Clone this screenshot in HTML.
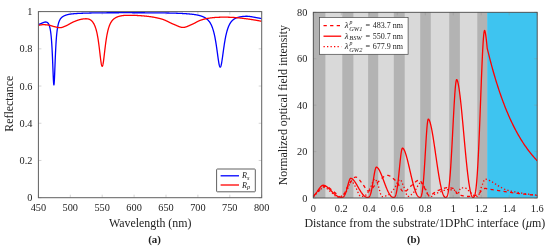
<!DOCTYPE html>
<html><head><meta charset="utf-8"><title>Figure</title>
<style>html,body{margin:0;padding:0;background:#fff;}body{width:550px;height:248px;overflow:hidden;}</style>
</head><body>
<svg width="550" height="248" viewBox="0 0 550 248" style="display:block">
<rect width="550" height="248" fill="#fff"/>
<g fill="none" stroke="#a8a8a8" stroke-width="0.5">
<path d="M38.40,197.7 v-3 M38.40,11.6 v3"/>
<path d="M70.30,197.7 v-3 M70.30,11.6 v3"/>
<path d="M102.20,197.7 v-3 M102.20,11.6 v3"/>
<path d="M134.10,197.7 v-3 M134.10,11.6 v3"/>
<path d="M166.00,197.7 v-3 M166.00,11.6 v3"/>
<path d="M197.90,197.7 v-3 M197.90,11.6 v3"/>
<path d="M229.80,197.7 v-3 M229.80,11.6 v3"/>
<path d="M261.70,197.7 v-3 M261.70,11.6 v3"/>
<path d="M38.4,197.70 h3 M261.7,197.70 h-3"/>
<path d="M38.4,160.48 h3 M261.7,160.48 h-3"/>
<path d="M38.4,123.26 h3 M261.7,123.26 h-3"/>
<path d="M38.4,86.04 h3 M261.7,86.04 h-3"/>
<path d="M38.4,48.82 h3 M261.7,48.82 h-3"/>
<path d="M38.4,11.60 h3 M261.7,11.60 h-3"/>
</g>
<clipPath id="cl"><rect x="38.4" y="11.6" width="223.30" height="186.10"/></clipPath>
<g clip-path="url(#cl)" fill="none" stroke-width="1.3" stroke-linejoin="round"><path d="M38.40,24.61 L38.56,24.55 L38.72,24.49 L38.88,24.42 L39.04,24.36 L39.20,24.29 L39.36,24.22 L39.52,24.16 L39.68,24.09 L39.84,24.03 L39.99,23.96 L40.15,23.89 L40.31,23.83 L40.47,23.76 L40.63,23.69 L40.79,23.62 L40.95,23.56 L41.11,23.49 L41.27,23.43 L41.43,23.36 L41.59,23.29 L41.75,23.23 L41.91,23.17 L42.07,23.10 L42.23,23.04 L42.39,22.98 L42.55,22.91 L42.71,22.85 L42.87,22.78 L43.03,22.72 L43.18,22.65 L43.34,22.59 L43.50,22.52 L43.66,22.46 L43.82,22.40 L43.98,22.34 L44.14,22.29 L44.30,22.23 L44.46,22.19 L44.62,22.14 L44.78,22.10 L44.94,22.07 L45.10,22.04 L45.26,22.02 L45.42,22.00 L45.58,22.00 L45.74,22.00 L45.90,22.01 L46.06,22.03 L46.22,22.05 L46.38,22.09 L46.53,22.13 L46.69,22.18 L46.85,22.25 L47.01,22.32 L47.17,22.40 L47.33,22.50 L47.49,22.61 L47.65,22.74 L47.81,22.89 L47.97,23.06 L48.13,23.24 L48.29,23.46 L48.45,23.70 L48.61,23.96 L48.77,24.27 L48.93,24.60 L49.09,24.98 L49.25,25.40 L49.41,25.87 L49.56,26.39 L49.72,26.97 L49.88,27.62 L50.04,28.34 L50.20,29.14 L50.36,30.03 L50.52,31.02 L50.68,32.13 L50.84,33.35 L51.00,34.73 L51.16,36.26 L51.32,37.97 L51.48,39.88 L51.64,42.01 L51.80,44.39 L51.96,47.02 L52.12,49.94 L52.28,53.15 L52.44,56.63 L52.60,60.38 L52.75,64.32 L52.91,68.38 L53.07,72.40 L53.23,76.22 L53.39,79.61 L53.55,82.32 L53.71,84.14 L53.87,84.90 L54.03,84.52 L54.19,83.03 L54.35,80.58 L54.51,77.36 L54.67,73.61 L54.83,69.57 L54.99,65.44 L55.15,61.36 L55.31,57.45 L55.47,53.79 L55.63,50.39 L55.79,47.28 L55.94,44.46 L56.10,41.91 L56.26,39.60 L56.42,37.53 L56.58,35.67 L56.74,33.99 L56.90,32.48 L57.06,31.12 L57.22,29.89 L57.38,28.77 L57.54,27.77 L57.70,26.85 L57.86,26.02 L58.02,25.26 L58.18,24.56 L58.34,23.93 L58.50,23.34 L58.66,22.81 L58.82,22.31 L58.98,21.86 L59.13,21.44 L59.29,21.04 L59.45,20.68 L59.61,20.34 L59.77,20.03 L59.93,19.73 L60.09,19.46 L60.25,19.20 L60.41,18.96 L60.57,18.74 L60.73,18.52 L60.89,18.32 L61.05,18.13 L61.21,17.95 L61.37,17.78 L61.53,17.62 L61.69,17.47 L61.85,17.33 L62.01,17.19 L62.17,17.06 L62.33,16.94 L62.48,16.82 L62.64,16.71 L62.80,16.60 L62.96,16.49 L63.12,16.40 L63.28,16.30 L63.44,16.21 L63.60,16.12 L63.76,16.04 L63.92,15.96 L64.08,15.88 L64.24,15.80 L64.40,15.73 L64.56,15.66 L64.72,15.59 L64.88,15.52 L65.04,15.46 L65.20,15.39 L65.36,15.33 L65.52,15.28 L65.67,15.22 L65.83,15.16 L65.99,15.11 L66.15,15.06 L66.31,15.01 L66.47,14.96 L66.63,14.91 L66.79,14.86 L66.95,14.82 L67.11,14.77 L67.27,14.73 L67.43,14.69 L67.59,14.65 L67.75,14.61 L67.91,14.57 L68.07,14.53 L68.23,14.49 L68.39,14.46 L68.55,14.43 L68.70,14.39 L68.86,14.36 L69.02,14.33 L69.18,14.30 L69.34,14.27 L69.50,14.24 L69.66,14.22 L69.82,14.19 L69.98,14.16 L70.14,14.14 L70.30,14.12 L70.46,14.10 L70.62,14.07 L70.78,14.05 L70.94,14.03 L71.10,14.01 L71.26,13.99 L71.42,13.97 L71.58,13.95 L71.74,13.94 L71.89,13.92 L72.05,13.90 L72.21,13.88 L72.37,13.87 L72.53,13.85 L72.69,13.83 L72.85,13.82 L73.01,13.80 L73.17,13.79 L73.33,13.77 L73.49,13.76 L73.65,13.74 L73.81,13.73 L73.97,13.71 L74.13,13.70 L74.29,13.69 L74.45,13.68 L74.61,13.66 L74.77,13.65 L74.93,13.64 L75.08,13.63 L75.24,13.61 L75.40,13.60 L75.56,13.59 L75.72,13.58 L75.88,13.57 L76.04,13.56 L76.20,13.55 L76.36,13.54 L76.52,13.53 L76.68,13.52 L76.84,13.51 L77.00,13.50 L77.16,13.49 L77.32,13.48 L77.48,13.47 L77.64,13.46 L77.80,13.45 L77.96,13.44 L78.12,13.43 L78.27,13.43 L78.43,13.42 L78.59,13.41 L78.75,13.40 L78.91,13.39 L79.07,13.39 L79.23,13.38 L79.39,13.37 L79.55,13.36 L79.71,13.36 L79.87,13.35 L80.03,13.34 L80.19,13.33 L80.35,13.33 L80.51,13.32 L80.67,13.31 L80.83,13.31 L80.99,13.30 L81.15,13.29 L81.31,13.29 L81.47,13.28 L81.62,13.27 L81.78,13.27 L81.94,13.26 L82.10,13.26 L82.26,13.25 L82.42,13.24 L82.58,13.24 L82.74,13.23 L82.90,13.23 L83.06,13.22 L83.22,13.21 L83.38,13.21 L83.54,13.20 L83.70,13.20 L83.86,13.19 L84.02,13.19 L84.18,13.18 L84.34,13.18 L84.50,13.17 L84.66,13.16 L84.81,13.16 L84.97,13.15 L85.13,13.15 L85.29,13.14 L85.45,13.14 L85.61,13.13 L85.77,13.13 L85.93,13.12 L86.09,13.12 L86.25,13.11 L86.41,13.11 L86.57,13.10 L86.73,13.10 L86.89,13.09 L87.05,13.09 L87.21,13.08 L87.37,13.08 L87.53,13.08 L87.69,13.07 L87.84,13.07 L88.00,13.06 L88.16,13.06 L88.32,13.05 L88.48,13.05 L88.64,13.04 L88.80,13.04 L88.96,13.04 L89.12,13.03 L89.28,13.03 L89.44,13.02 L89.60,13.02 L89.76,13.01 L89.92,13.01 L90.08,13.01 L90.24,13.00 L90.40,13.00 L90.56,12.99 L90.72,12.99 L90.88,12.99 L91.03,12.98 L91.19,12.98 L91.35,12.98 L91.51,12.97 L91.67,12.97 L91.83,12.96 L91.99,12.96 L92.15,12.96 L92.31,12.95 L92.47,12.95 L92.63,12.95 L92.79,12.94 L92.95,12.94 L93.11,12.94 L93.27,12.93 L93.43,12.93 L93.59,12.93 L93.75,12.92 L93.91,12.92 L94.07,12.92 L94.22,12.91 L94.38,12.91 L94.54,12.91 L94.70,12.90 L94.86,12.90 L95.02,12.90 L95.18,12.90 L95.34,12.89 L95.50,12.89 L95.66,12.89 L95.82,12.88 L95.98,12.88 L96.14,12.88 L96.30,12.88 L96.46,12.87 L96.62,12.87 L96.78,12.87 L96.94,12.87 L97.10,12.86 L97.26,12.86 L97.41,12.86 L97.57,12.86 L97.73,12.85 L97.89,12.85 L98.05,12.85 L98.21,12.85 L98.37,12.84 L98.53,12.84 L98.69,12.84 L98.85,12.84 L99.01,12.84 L99.17,12.83 L99.33,12.83 L99.49,12.83 L99.65,12.83 L99.81,12.83 L99.97,12.82 L100.13,12.82 L100.29,12.82 L100.45,12.82 L100.60,12.82 L100.76,12.82 L100.92,12.81 L101.08,12.81 L101.24,12.81 L101.40,12.81 L101.56,12.81 L101.72,12.81 L101.88,12.81 L102.04,12.81 L102.20,12.80 L102.36,12.80 L102.52,12.80 L102.68,12.80 L102.84,12.80 L103.00,12.80 L103.16,12.80 L103.32,12.80 L103.48,12.79 L103.64,12.79 L103.79,12.79 L103.95,12.79 L104.11,12.79 L104.27,12.79 L104.43,12.79 L104.59,12.79 L104.75,12.79 L104.91,12.79 L105.07,12.78 L105.23,12.78 L105.39,12.78 L105.55,12.78 L105.71,12.78 L105.87,12.78 L106.03,12.78 L106.19,12.78 L106.35,12.78 L106.51,12.78 L106.67,12.77 L106.83,12.77 L106.98,12.77 L107.14,12.77 L107.30,12.77 L107.46,12.77 L107.62,12.77 L107.78,12.77 L107.94,12.77 L108.10,12.77 L108.26,12.77 L108.42,12.76 L108.58,12.76 L108.74,12.76 L108.90,12.76 L109.06,12.76 L109.22,12.76 L109.38,12.76 L109.54,12.76 L109.70,12.76 L109.86,12.76 L110.02,12.76 L110.17,12.76 L110.33,12.75 L110.49,12.75 L110.65,12.75 L110.81,12.75 L110.97,12.75 L111.13,12.75 L111.29,12.75 L111.45,12.75 L111.61,12.75 L111.77,12.75 L111.93,12.75 L112.09,12.75 L112.25,12.75 L112.41,12.75 L112.57,12.75 L112.73,12.74 L112.89,12.74 L113.05,12.74 L113.21,12.74 L113.36,12.74 L113.52,12.74 L113.68,12.74 L113.84,12.74 L114.00,12.74 L114.16,12.74 L114.32,12.74 L114.48,12.74 L114.64,12.74 L114.80,12.74 L114.96,12.74 L115.12,12.74 L115.28,12.74 L115.44,12.73 L115.60,12.73 L115.76,12.73 L115.92,12.73 L116.08,12.73 L116.24,12.73 L116.40,12.73 L116.55,12.73 L116.71,12.73 L116.87,12.73 L117.03,12.73 L117.19,12.73 L117.35,12.73 L117.51,12.73 L117.67,12.73 L117.83,12.73 L117.99,12.73 L118.15,12.73 L118.31,12.73 L118.47,12.73 L118.63,12.73 L118.79,12.73 L118.95,12.73 L119.11,12.72 L119.27,12.72 L119.43,12.72 L119.59,12.72 L119.74,12.72 L119.90,12.72 L120.06,12.72 L120.22,12.72 L120.38,12.72 L120.54,12.72 L120.70,12.72 L120.86,12.72 L121.02,12.72 L121.18,12.72 L121.34,12.72 L121.50,12.72 L121.66,12.72 L121.82,12.72 L121.98,12.72 L122.14,12.72 L122.30,12.72 L122.46,12.72 L122.62,12.72 L122.78,12.72 L122.94,12.72 L123.09,12.72 L123.25,12.72 L123.41,12.72 L123.57,12.72 L123.73,12.72 L123.89,12.72 L124.05,12.72 L124.21,12.72 L124.37,12.72 L124.53,12.72 L124.69,12.72 L124.85,12.72 L125.01,12.72 L125.17,12.72 L125.33,12.72 L125.49,12.72 L125.65,12.72 L125.81,12.72 L125.97,12.72 L126.12,12.72 L126.28,12.72 L126.44,12.72 L126.60,12.72 L126.76,12.72 L126.92,12.72 L127.08,12.72 L127.24,12.72 L127.40,12.72 L127.56,12.72 L127.72,12.72 L127.88,12.72 L128.04,12.72 L128.20,12.72 L128.36,12.72 L128.52,12.72 L128.68,12.72 L128.84,12.72 L129.00,12.72 L129.16,12.72 L129.31,12.72 L129.47,12.72 L129.63,12.72 L129.79,12.72 L129.95,12.72 L130.11,12.72 L130.27,12.72 L130.43,12.72 L130.59,12.72 L130.75,12.72 L130.91,12.72 L131.07,12.72 L131.23,12.72 L131.39,12.72 L131.55,12.72 L131.71,12.72 L131.87,12.72 L132.03,12.72 L132.19,12.73 L132.35,12.73 L132.50,12.73 L132.66,12.73 L132.82,12.73 L132.98,12.73 L133.14,12.73 L133.30,12.73 L133.46,12.73 L133.62,12.73 L133.78,12.73 L133.94,12.73 L134.10,12.73 L134.26,12.73 L134.42,12.73 L134.58,12.73 L134.74,12.73 L134.90,12.73 L135.06,12.73 L135.22,12.73 L135.38,12.73 L135.54,12.73 L135.69,12.74 L135.85,12.74 L136.01,12.74 L136.17,12.74 L136.33,12.74 L136.49,12.74 L136.65,12.74 L136.81,12.74 L136.97,12.74 L137.13,12.74 L137.29,12.74 L137.45,12.74 L137.61,12.74 L137.77,12.74 L137.93,12.74 L138.09,12.74 L138.25,12.74 L138.41,12.75 L138.57,12.75 L138.73,12.75 L138.88,12.75 L139.04,12.75 L139.20,12.75 L139.36,12.75 L139.52,12.75 L139.68,12.75 L139.84,12.75 L140.00,12.75 L140.16,12.75 L140.32,12.75 L140.48,12.75 L140.64,12.75 L140.80,12.75 L140.96,12.76 L141.12,12.76 L141.28,12.76 L141.44,12.76 L141.60,12.76 L141.76,12.76 L141.92,12.76 L142.07,12.76 L142.23,12.76 L142.39,12.76 L142.55,12.76 L142.71,12.76 L142.87,12.76 L143.03,12.76 L143.19,12.77 L143.35,12.77 L143.51,12.77 L143.67,12.77 L143.83,12.77 L143.99,12.77 L144.15,12.77 L144.31,12.77 L144.47,12.77 L144.63,12.77 L144.79,12.77 L144.95,12.77 L145.11,12.78 L145.26,12.78 L145.42,12.78 L145.58,12.78 L145.74,12.78 L145.90,12.78 L146.06,12.78 L146.22,12.78 L146.38,12.78 L146.54,12.78 L146.70,12.78 L146.86,12.78 L147.02,12.79 L147.18,12.79 L147.34,12.79 L147.50,12.79 L147.66,12.79 L147.82,12.79 L147.98,12.79 L148.14,12.79 L148.30,12.79 L148.46,12.79 L148.61,12.80 L148.77,12.80 L148.93,12.80 L149.09,12.80 L149.25,12.80 L149.41,12.80 L149.57,12.80 L149.73,12.80 L149.89,12.80 L150.05,12.80 L150.21,12.81 L150.37,12.81 L150.53,12.81 L150.69,12.81 L150.85,12.81 L151.01,12.81 L151.17,12.81 L151.33,12.81 L151.49,12.81 L151.65,12.82 L151.80,12.82 L151.96,12.82 L152.12,12.82 L152.28,12.82 L152.44,12.82 L152.60,12.82 L152.76,12.82 L152.92,12.82 L153.08,12.83 L153.24,12.83 L153.40,12.83 L153.56,12.83 L153.72,12.83 L153.88,12.83 L154.04,12.83 L154.20,12.83 L154.36,12.84 L154.52,12.84 L154.68,12.84 L154.84,12.84 L154.99,12.84 L155.15,12.84 L155.31,12.84 L155.47,12.85 L155.63,12.85 L155.79,12.85 L155.95,12.85 L156.11,12.85 L156.27,12.85 L156.43,12.85 L156.59,12.86 L156.75,12.86 L156.91,12.86 L157.07,12.86 L157.23,12.86 L157.39,12.86 L157.55,12.86 L157.71,12.87 L157.87,12.87 L158.03,12.87 L158.18,12.87 L158.34,12.87 L158.50,12.87 L158.66,12.88 L158.82,12.88 L158.98,12.88 L159.14,12.88 L159.30,12.88 L159.46,12.88 L159.62,12.89 L159.78,12.89 L159.94,12.89 L160.10,12.89 L160.26,12.89 L160.42,12.89 L160.58,12.90 L160.74,12.90 L160.90,12.90 L161.06,12.90 L161.22,12.90 L161.37,12.90 L161.53,12.91 L161.69,12.91 L161.85,12.91 L162.01,12.91 L162.17,12.91 L162.33,12.92 L162.49,12.92 L162.65,12.92 L162.81,12.92 L162.97,12.92 L163.13,12.93 L163.29,12.93 L163.45,12.93 L163.61,12.93 L163.77,12.93 L163.93,12.94 L164.09,12.94 L164.25,12.94 L164.41,12.94 L164.56,12.95 L164.72,12.95 L164.88,12.95 L165.04,12.95 L165.20,12.95 L165.36,12.96 L165.52,12.96 L165.68,12.96 L165.84,12.96 L166.00,12.97 L166.16,12.97 L166.32,12.97 L166.48,12.97 L166.64,12.98 L166.80,12.98 L166.96,12.98 L167.12,12.98 L167.28,12.99 L167.44,12.99 L167.59,12.99 L167.75,13.00 L167.91,13.00 L168.07,13.00 L168.23,13.00 L168.39,13.01 L168.55,13.01 L168.71,13.01 L168.87,13.02 L169.03,13.02 L169.19,13.02 L169.35,13.03 L169.51,13.03 L169.67,13.03 L169.83,13.04 L169.99,13.04 L170.15,13.04 L170.31,13.05 L170.47,13.05 L170.63,13.06 L170.78,13.06 L170.94,13.06 L171.10,13.07 L171.26,13.07 L171.42,13.08 L171.58,13.08 L171.74,13.08 L171.90,13.09 L172.06,13.09 L172.22,13.10 L172.38,13.10 L172.54,13.11 L172.70,13.11 L172.86,13.11 L173.02,13.12 L173.18,13.12 L173.34,13.13 L173.50,13.13 L173.66,13.14 L173.82,13.14 L173.97,13.15 L174.13,13.15 L174.29,13.16 L174.45,13.16 L174.61,13.17 L174.77,13.17 L174.93,13.18 L175.09,13.18 L175.25,13.19 L175.41,13.19 L175.57,13.20 L175.73,13.21 L175.89,13.21 L176.05,13.22 L176.21,13.22 L176.37,13.23 L176.53,13.23 L176.69,13.24 L176.85,13.25 L177.01,13.25 L177.16,13.26 L177.32,13.26 L177.48,13.27 L177.64,13.28 L177.80,13.28 L177.96,13.29 L178.12,13.30 L178.28,13.30 L178.44,13.31 L178.60,13.32 L178.76,13.32 L178.92,13.33 L179.08,13.34 L179.24,13.34 L179.40,13.35 L179.56,13.36 L179.72,13.36 L179.88,13.37 L180.04,13.38 L180.20,13.39 L180.35,13.39 L180.51,13.40 L180.67,13.41 L180.83,13.42 L180.99,13.42 L181.15,13.43 L181.31,13.44 L181.47,13.45 L181.63,13.46 L181.79,13.46 L181.95,13.47 L182.11,13.48 L182.27,13.49 L182.43,13.50 L182.59,13.51 L182.75,13.52 L182.91,13.52 L183.07,13.53 L183.23,13.54 L183.39,13.55 L183.54,13.56 L183.70,13.57 L183.86,13.58 L184.02,13.59 L184.18,13.60 L184.34,13.61 L184.50,13.62 L184.66,13.63 L184.82,13.64 L184.98,13.65 L185.14,13.66 L185.30,13.67 L185.46,13.68 L185.62,13.69 L185.78,13.70 L185.94,13.71 L186.10,13.72 L186.26,13.73 L186.42,13.75 L186.58,13.76 L186.73,13.77 L186.89,13.78 L187.05,13.79 L187.21,13.80 L187.37,13.82 L187.53,13.83 L187.69,13.84 L187.85,13.85 L188.01,13.87 L188.17,13.88 L188.33,13.89 L188.49,13.90 L188.65,13.92 L188.81,13.93 L188.97,13.95 L189.13,13.96 L189.29,13.97 L189.45,13.99 L189.61,14.00 L189.77,14.02 L189.92,14.03 L190.08,14.05 L190.24,14.06 L190.40,14.08 L190.56,14.09 L190.72,14.11 L190.88,14.12 L191.04,14.14 L191.20,14.16 L191.36,14.17 L191.52,14.19 L191.68,14.21 L191.84,14.23 L192.00,14.24 L192.16,14.26 L192.32,14.28 L192.48,14.30 L192.64,14.32 L192.80,14.34 L192.96,14.36 L193.11,14.38 L193.27,14.40 L193.43,14.42 L193.59,14.44 L193.75,14.46 L193.91,14.48 L194.07,14.50 L194.23,14.53 L194.39,14.55 L194.55,14.57 L194.71,14.59 L194.87,14.62 L195.03,14.64 L195.19,14.67 L195.35,14.69 L195.51,14.72 L195.67,14.74 L195.83,14.77 L195.99,14.80 L196.15,14.83 L196.30,14.85 L196.46,14.88 L196.62,14.91 L196.78,14.94 L196.94,14.97 L197.10,15.00 L197.26,15.03 L197.42,15.06 L197.58,15.10 L197.74,15.13 L197.90,15.16 L198.06,15.20 L198.22,15.23 L198.38,15.27 L198.54,15.30 L198.70,15.34 L198.86,15.38 L199.02,15.42 L199.18,15.46 L199.34,15.50 L199.49,15.54 L199.65,15.58 L199.81,15.62 L199.97,15.67 L200.13,15.71 L200.29,15.76 L200.45,15.80 L200.61,15.85 L200.77,15.90 L200.93,15.95 L201.09,16.00 L201.25,16.05 L201.41,16.11 L201.57,16.16 L201.73,16.22 L201.89,16.27 L202.05,16.33 L202.21,16.39 L202.37,16.45 L202.53,16.52 L202.68,16.58 L202.84,16.65 L203.00,16.71 L203.16,16.78 L203.32,16.85 L203.48,16.93 L203.64,17.00 L203.80,17.08 L203.96,17.16 L204.12,17.24 L204.28,17.32 L204.44,17.40 L204.60,17.49 L204.76,17.58 L204.92,17.67 L205.08,17.77 L205.24,17.86 L205.40,17.96 L205.56,18.07 L205.72,18.17 L205.87,18.28 L206.03,18.39 L206.19,18.51 L206.35,18.62 L206.51,18.75 L206.67,18.87 L206.83,19.00 L206.99,19.13 L207.15,19.27 L207.31,19.41 L207.47,19.56 L207.63,19.71 L207.79,19.86 L207.95,20.02 L208.11,20.19 L208.27,20.36 L208.43,20.53 L208.59,20.72 L208.75,20.90 L208.91,21.10 L209.06,21.30 L209.22,21.51 L209.38,21.72 L209.54,21.94 L209.70,22.18 L209.86,22.41 L210.02,22.66 L210.18,22.92 L210.34,23.18 L210.50,23.46 L210.66,23.74 L210.82,24.04 L210.98,24.34 L211.14,24.66 L211.30,24.99 L211.46,25.34 L211.62,25.69 L211.78,26.06 L211.94,26.45 L212.10,26.85 L212.25,27.26 L212.41,27.69 L212.57,28.14 L212.73,28.61 L212.89,29.09 L213.05,29.60 L213.21,30.12 L213.37,30.66 L213.53,31.23 L213.69,31.82 L213.85,32.43 L214.01,33.07 L214.17,33.73 L214.33,34.42 L214.49,35.14 L214.65,35.88 L214.81,36.65 L214.97,37.45 L215.13,38.28 L215.29,39.14 L215.44,40.03 L215.60,40.95 L215.76,41.89 L215.92,42.87 L216.08,43.88 L216.24,44.91 L216.40,45.98 L216.56,47.06 L216.72,48.17 L216.88,49.30 L217.04,50.45 L217.20,51.61 L217.36,52.78 L217.52,53.95 L217.68,55.13 L217.84,56.29 L218.00,57.44 L218.16,58.56 L218.32,59.65 L218.48,60.71 L218.63,61.71 L218.79,62.65 L218.95,63.53 L219.11,64.33 L219.27,65.05 L219.43,65.67 L219.59,66.19 L219.75,66.60 L219.91,66.89 L220.07,67.08 L220.23,67.14 L220.39,67.08 L220.55,66.90 L220.71,66.60 L220.87,66.20 L221.03,65.68 L221.19,65.06 L221.35,64.35 L221.51,63.55 L221.67,62.68 L221.82,61.73 L221.98,60.73 L222.14,59.68 L222.30,58.59 L222.46,57.47 L222.62,56.32 L222.78,55.16 L222.94,54.00 L223.10,52.83 L223.26,51.66 L223.42,50.50 L223.58,49.36 L223.74,48.23 L223.90,47.12 L224.06,46.04 L224.22,44.98 L224.38,43.94 L224.54,42.94 L224.70,41.96 L224.86,41.02 L225.01,40.10 L225.17,39.22 L225.33,38.36 L225.49,37.53 L225.65,36.74 L225.81,35.97 L225.97,35.23 L226.13,34.52 L226.29,33.83 L226.45,33.17 L226.61,32.54 L226.77,31.93 L226.93,31.34 L227.09,30.78 L227.25,30.24 L227.41,29.72 L227.57,29.22 L227.73,28.74 L227.89,28.28 L228.05,27.83 L228.21,27.40 L228.36,26.99 L228.52,26.60 L228.68,26.22 L228.84,25.85 L229.00,25.50 L229.16,25.16 L229.32,24.83 L229.48,24.52 L229.64,24.22 L229.80,23.93 L229.96,23.65 L230.12,23.38 L230.28,23.12 L230.44,22.87 L230.60,22.63 L230.76,22.40 L230.92,22.17 L231.08,21.96 L231.24,21.75 L231.40,21.56 L231.55,21.36 L231.71,21.18 L231.87,21.00 L232.03,20.83 L232.19,20.67 L232.35,20.51 L232.51,20.36 L232.67,20.21 L232.83,20.07 L232.99,19.93 L233.15,19.80 L233.31,19.67 L233.47,19.55 L233.63,19.43 L233.79,19.32 L233.95,19.21 L234.11,19.10 L234.27,19.00 L234.43,18.90 L234.59,18.80 L234.74,18.71 L234.90,18.62 L235.06,18.53 L235.22,18.45 L235.38,18.37 L235.54,18.29 L235.70,18.22 L235.86,18.15 L236.02,18.08 L236.18,18.01 L236.34,17.94 L236.50,17.88 L236.66,17.82 L236.82,17.76 L236.98,17.70 L237.14,17.65 L237.30,17.59 L237.46,17.54 L237.62,17.49 L237.78,17.44 L237.93,17.39 L238.09,17.35 L238.25,17.30 L238.41,17.26 L238.57,17.22 L238.73,17.18 L238.89,17.14 L239.05,17.10 L239.21,17.06 L239.37,17.03 L239.53,16.99 L239.69,16.95 L239.85,16.92 L240.01,16.89 L240.17,16.86 L240.33,16.83 L240.49,16.80 L240.65,16.77 L240.81,16.74 L240.97,16.71 L241.12,16.69 L241.28,16.66 L241.44,16.64 L241.60,16.61 L241.76,16.59 L241.92,16.57 L242.08,16.55 L242.24,16.53 L242.40,16.51 L242.56,16.49 L242.72,16.47 L242.88,16.45 L243.04,16.43 L243.20,16.42 L243.36,16.40 L243.52,16.39 L243.68,16.37 L243.84,16.36 L244.00,16.35 L244.16,16.34 L244.31,16.33 L244.47,16.32 L244.63,16.31 L244.79,16.30 L244.95,16.29 L245.11,16.28 L245.27,16.28 L245.43,16.27 L245.59,16.27 L245.75,16.26 L245.91,16.26 L246.07,16.26 L246.23,16.26 L246.39,16.25 L246.55,16.25 L246.71,16.25 L246.87,16.26 L247.03,16.26 L247.19,16.26 L247.34,16.26 L247.50,16.27 L247.66,16.28 L247.82,16.28 L247.98,16.29 L248.14,16.30 L248.30,16.32 L248.46,16.33 L248.62,16.34 L248.78,16.36 L248.94,16.37 L249.10,16.39 L249.26,16.41 L249.42,16.43 L249.58,16.45 L249.74,16.47 L249.90,16.49 L250.06,16.51 L250.22,16.53 L250.38,16.56 L250.53,16.58 L250.69,16.60 L250.85,16.63 L251.01,16.65 L251.17,16.68 L251.33,16.71 L251.49,16.73 L251.65,16.76 L251.81,16.79 L251.97,16.82 L252.13,16.85 L252.29,16.88 L252.45,16.90 L252.61,16.93 L252.77,16.96 L252.93,16.99 L253.09,17.02 L253.25,17.05 L253.41,17.08 L253.57,17.11 L253.72,17.14 L253.88,17.17 L254.04,17.20 L254.20,17.23 L254.36,17.26 L254.52,17.29 L254.68,17.32 L254.84,17.35 L255.00,17.38 L255.16,17.40 L255.32,17.43 L255.48,17.46 L255.64,17.49 L255.80,17.52 L255.96,17.54 L256.12,17.57 L256.28,17.60 L256.44,17.63 L256.60,17.66 L256.76,17.69 L256.91,17.72 L257.07,17.75 L257.23,17.78 L257.39,17.80 L257.55,17.83 L257.71,17.86 L257.87,17.89 L258.03,17.92 L258.19,17.95 L258.35,17.98 L258.51,18.01 L258.67,18.05 L258.83,18.08 L258.99,18.11 L259.15,18.14 L259.31,18.17 L259.47,18.20 L259.63,18.23 L259.79,18.26 L259.95,18.29 L260.11,18.32 L260.26,18.36 L260.42,18.39 L260.58,18.42 L260.74,18.45 L260.90,18.48 L261.06,18.51 L261.22,18.55 L261.38,18.58 L261.54,18.61 L261.70,18.64" stroke="#0000ff"/><path d="M38.40,25.39 L38.56,25.35 L38.72,25.31 L38.88,25.27 L39.04,25.23 L39.20,25.20 L39.36,25.16 L39.52,25.13 L39.68,25.10 L39.84,25.06 L39.99,25.03 L40.15,25.00 L40.31,24.97 L40.47,24.95 L40.63,24.92 L40.79,24.89 L40.95,24.87 L41.11,24.85 L41.27,24.82 L41.43,24.80 L41.59,24.79 L41.75,24.77 L41.91,24.75 L42.07,24.74 L42.23,24.72 L42.39,24.71 L42.55,24.70 L42.71,24.69 L42.87,24.69 L43.03,24.68 L43.18,24.68 L43.34,24.68 L43.50,24.68 L43.66,24.68 L43.82,24.68 L43.98,24.69 L44.14,24.69 L44.30,24.70 L44.46,24.70 L44.62,24.71 L44.78,24.72 L44.94,24.73 L45.10,24.74 L45.26,24.75 L45.42,24.76 L45.58,24.77 L45.74,24.79 L45.90,24.80 L46.06,24.82 L46.22,24.83 L46.38,24.85 L46.53,24.86 L46.69,24.88 L46.85,24.89 L47.01,24.91 L47.17,24.93 L47.33,24.95 L47.49,24.96 L47.65,24.98 L47.81,25.00 L47.97,25.02 L48.13,25.04 L48.29,25.06 L48.45,25.08 L48.61,25.10 L48.77,25.12 L48.93,25.14 L49.09,25.17 L49.25,25.20 L49.41,25.23 L49.56,25.27 L49.72,25.30 L49.88,25.34 L50.04,25.38 L50.20,25.43 L50.36,25.47 L50.52,25.52 L50.68,25.56 L50.84,25.61 L51.00,25.66 L51.16,25.71 L51.32,25.76 L51.48,25.81 L51.64,25.87 L51.80,25.92 L51.96,25.97 L52.12,26.02 L52.28,26.07 L52.44,26.12 L52.60,26.18 L52.75,26.23 L52.91,26.28 L53.07,26.32 L53.23,26.37 L53.39,26.42 L53.55,26.46 L53.71,26.51 L53.87,26.55 L54.03,26.59 L54.19,26.62 L54.35,26.66 L54.51,26.69 L54.67,26.73 L54.83,26.77 L54.99,26.80 L55.15,26.84 L55.31,26.88 L55.47,26.91 L55.63,26.95 L55.79,26.99 L55.94,27.03 L56.10,27.06 L56.26,27.10 L56.42,27.14 L56.58,27.17 L56.74,27.21 L56.90,27.25 L57.06,27.28 L57.22,27.31 L57.38,27.35 L57.54,27.38 L57.70,27.41 L57.86,27.44 L58.02,27.47 L58.18,27.50 L58.34,27.52 L58.50,27.55 L58.66,27.57 L58.82,27.59 L58.98,27.61 L59.13,27.63 L59.29,27.65 L59.45,27.66 L59.61,27.67 L59.77,27.68 L59.93,27.69 L60.09,27.69 L60.25,27.69 L60.41,27.69 L60.57,27.68 L60.73,27.66 L60.89,27.64 L61.05,27.62 L61.21,27.59 L61.37,27.56 L61.53,27.52 L61.69,27.48 L61.85,27.44 L62.01,27.39 L62.17,27.34 L62.33,27.29 L62.48,27.23 L62.64,27.18 L62.80,27.12 L62.96,27.06 L63.12,26.99 L63.28,26.93 L63.44,26.86 L63.60,26.80 L63.76,26.73 L63.92,26.67 L64.08,26.60 L64.24,26.53 L64.40,26.47 L64.56,26.40 L64.72,26.34 L64.88,26.28 L65.04,26.21 L65.20,26.15 L65.36,26.09 L65.52,26.03 L65.67,25.96 L65.83,25.90 L65.99,25.83 L66.15,25.76 L66.31,25.68 L66.47,25.61 L66.63,25.53 L66.79,25.46 L66.95,25.38 L67.11,25.30 L67.27,25.21 L67.43,25.13 L67.59,25.05 L67.75,24.96 L67.91,24.87 L68.07,24.79 L68.23,24.70 L68.39,24.61 L68.55,24.52 L68.70,24.43 L68.86,24.34 L69.02,24.25 L69.18,24.16 L69.34,24.07 L69.50,23.98 L69.66,23.88 L69.82,23.79 L69.98,23.70 L70.14,23.61 L70.30,23.52 L70.46,23.43 L70.62,23.34 L70.78,23.25 L70.94,23.16 L71.10,23.07 L71.26,22.98 L71.42,22.90 L71.58,22.81 L71.74,22.73 L71.89,22.64 L72.05,22.56 L72.21,22.48 L72.37,22.40 L72.53,22.32 L72.69,22.24 L72.85,22.17 L73.01,22.10 L73.17,22.02 L73.33,21.95 L73.49,21.89 L73.65,21.82 L73.81,21.75 L73.97,21.69 L74.13,21.62 L74.29,21.56 L74.45,21.49 L74.61,21.43 L74.77,21.36 L74.93,21.30 L75.08,21.23 L75.24,21.17 L75.40,21.11 L75.56,21.05 L75.72,20.98 L75.88,20.92 L76.04,20.86 L76.20,20.80 L76.36,20.74 L76.52,20.68 L76.68,20.62 L76.84,20.57 L77.00,20.51 L77.16,20.45 L77.32,20.40 L77.48,20.34 L77.64,20.29 L77.80,20.23 L77.96,20.18 L78.12,20.13 L78.27,20.07 L78.43,20.02 L78.59,19.97 L78.75,19.92 L78.91,19.88 L79.07,19.83 L79.23,19.78 L79.39,19.73 L79.55,19.69 L79.71,19.64 L79.87,19.60 L80.03,19.56 L80.19,19.52 L80.35,19.48 L80.51,19.44 L80.67,19.40 L80.83,19.36 L80.99,19.33 L81.15,19.29 L81.31,19.26 L81.47,19.22 L81.62,19.19 L81.78,19.16 L81.94,19.13 L82.10,19.11 L82.26,19.08 L82.42,19.05 L82.58,19.03 L82.74,19.01 L82.90,18.99 L83.06,18.97 L83.22,18.95 L83.38,18.93 L83.54,18.91 L83.70,18.90 L83.86,18.88 L84.02,18.87 L84.18,18.85 L84.34,18.84 L84.50,18.83 L84.66,18.81 L84.81,18.80 L84.97,18.79 L85.13,18.78 L85.29,18.78 L85.45,18.77 L85.61,18.77 L85.77,18.77 L85.93,18.76 L86.09,18.77 L86.25,18.77 L86.41,18.77 L86.57,18.78 L86.73,18.79 L86.89,18.80 L87.05,18.81 L87.21,18.83 L87.37,18.85 L87.53,18.87 L87.69,18.89 L87.84,18.92 L88.00,18.95 L88.16,18.98 L88.32,19.01 L88.48,19.05 L88.64,19.10 L88.80,19.14 L88.96,19.19 L89.12,19.25 L89.28,19.30 L89.44,19.37 L89.60,19.44 L89.76,19.51 L89.92,19.58 L90.08,19.67 L90.24,19.75 L90.40,19.85 L90.56,19.95 L90.72,20.05 L90.88,20.16 L91.03,20.28 L91.19,20.41 L91.35,20.54 L91.51,20.68 L91.67,20.82 L91.83,20.98 L91.99,21.14 L92.15,21.32 L92.31,21.50 L92.47,21.69 L92.63,21.89 L92.79,22.10 L92.95,22.32 L93.11,22.55 L93.27,22.79 L93.43,23.05 L93.59,23.31 L93.75,23.58 L93.91,23.87 L94.07,24.17 L94.22,24.49 L94.38,24.82 L94.54,25.17 L94.70,25.53 L94.86,25.91 L95.02,26.31 L95.18,26.72 L95.34,27.16 L95.50,27.62 L95.66,28.10 L95.82,28.61 L95.98,29.14 L96.14,29.70 L96.30,30.28 L96.46,30.90 L96.62,31.54 L96.78,32.22 L96.94,32.93 L97.10,33.67 L97.26,34.45 L97.41,35.27 L97.57,36.13 L97.73,37.02 L97.89,37.96 L98.05,38.94 L98.21,39.97 L98.37,41.03 L98.53,42.14 L98.69,43.29 L98.85,44.48 L99.01,45.71 L99.17,46.98 L99.33,48.28 L99.49,49.61 L99.65,50.96 L99.81,52.32 L99.97,53.69 L100.13,55.06 L100.29,56.41 L100.45,57.74 L100.60,59.02 L100.76,60.25 L100.92,61.41 L101.08,62.48 L101.24,63.45 L101.40,64.30 L101.56,65.01 L101.72,65.58 L101.88,65.99 L102.04,66.24 L102.20,66.32 L102.36,66.23 L102.52,65.97 L102.68,65.54 L102.84,64.96 L103.00,64.23 L103.16,63.37 L103.32,62.39 L103.48,61.31 L103.64,60.14 L103.79,58.90 L103.95,57.60 L104.11,56.26 L104.27,54.90 L104.43,53.52 L104.59,52.13 L104.75,50.75 L104.91,49.39 L105.07,48.05 L105.23,46.74 L105.39,45.46 L105.55,44.22 L105.71,43.01 L105.87,41.85 L106.03,40.73 L106.19,39.65 L106.35,38.61 L106.51,37.62 L106.67,36.67 L106.83,35.76 L106.98,34.89 L107.14,34.06 L107.30,33.27 L107.46,32.51 L107.62,31.79 L107.78,31.10 L107.94,30.44 L108.10,29.82 L108.26,29.22 L108.42,28.65 L108.58,28.11 L108.74,27.59 L108.90,27.09 L109.06,26.62 L109.22,26.17 L109.38,25.74 L109.54,25.33 L109.70,24.94 L109.86,24.57 L110.02,24.21 L110.17,23.87 L110.33,23.54 L110.49,23.22 L110.65,22.92 L110.81,22.64 L110.97,22.36 L111.13,22.10 L111.29,21.84 L111.45,21.60 L111.61,21.37 L111.77,21.15 L111.93,20.93 L112.09,20.73 L112.25,20.53 L112.41,20.34 L112.57,20.16 L112.73,19.98 L112.89,19.81 L113.05,19.65 L113.21,19.49 L113.36,19.34 L113.52,19.20 L113.68,19.06 L113.84,18.92 L114.00,18.79 L114.16,18.67 L114.32,18.55 L114.48,18.43 L114.64,18.32 L114.80,18.21 L114.96,18.11 L115.12,18.00 L115.28,17.91 L115.44,17.81 L115.60,17.72 L115.76,17.63 L115.92,17.55 L116.08,17.47 L116.24,17.39 L116.40,17.31 L116.55,17.23 L116.71,17.16 L116.87,17.09 L117.03,17.02 L117.19,16.96 L117.35,16.90 L117.51,16.83 L117.67,16.77 L117.83,16.72 L117.99,16.66 L118.15,16.61 L118.31,16.55 L118.47,16.50 L118.63,16.45 L118.79,16.41 L118.95,16.36 L119.11,16.31 L119.27,16.27 L119.43,16.23 L119.59,16.19 L119.74,16.15 L119.90,16.11 L120.06,16.07 L120.22,16.03 L120.38,16.00 L120.54,15.96 L120.70,15.93 L120.86,15.90 L121.02,15.87 L121.18,15.83 L121.34,15.80 L121.50,15.78 L121.66,15.75 L121.82,15.72 L121.98,15.70 L122.14,15.67 L122.30,15.65 L122.46,15.63 L122.62,15.60 L122.78,15.58 L122.94,15.56 L123.09,15.55 L123.25,15.53 L123.41,15.51 L123.57,15.49 L123.73,15.48 L123.89,15.46 L124.05,15.45 L124.21,15.44 L124.37,15.43 L124.53,15.41 L124.69,15.40 L124.85,15.39 L125.01,15.38 L125.17,15.37 L125.33,15.37 L125.49,15.36 L125.65,15.35 L125.81,15.34 L125.97,15.34 L126.12,15.33 L126.28,15.32 L126.44,15.32 L126.60,15.31 L126.76,15.31 L126.92,15.31 L127.08,15.30 L127.24,15.30 L127.40,15.30 L127.56,15.29 L127.72,15.29 L127.88,15.29 L128.04,15.29 L128.20,15.29 L128.36,15.28 L128.52,15.28 L128.68,15.28 L128.84,15.28 L129.00,15.28 L129.16,15.28 L129.31,15.28 L129.47,15.28 L129.63,15.28 L129.79,15.28 L129.95,15.28 L130.11,15.28 L130.27,15.28 L130.43,15.28 L130.59,15.28 L130.75,15.28 L130.91,15.28 L131.07,15.29 L131.23,15.29 L131.39,15.29 L131.55,15.29 L131.71,15.29 L131.87,15.30 L132.03,15.30 L132.19,15.30 L132.35,15.31 L132.50,15.31 L132.66,15.31 L132.82,15.32 L132.98,15.32 L133.14,15.32 L133.30,15.33 L133.46,15.33 L133.62,15.34 L133.78,15.34 L133.94,15.35 L134.10,15.35 L134.26,15.36 L134.42,15.36 L134.58,15.37 L134.74,15.38 L134.90,15.38 L135.06,15.39 L135.22,15.40 L135.38,15.40 L135.54,15.41 L135.69,15.42 L135.85,15.42 L136.01,15.43 L136.17,15.44 L136.33,15.44 L136.49,15.45 L136.65,15.46 L136.81,15.47 L136.97,15.48 L137.13,15.48 L137.29,15.49 L137.45,15.50 L137.61,15.51 L137.77,15.52 L137.93,15.53 L138.09,15.54 L138.25,15.55 L138.41,15.56 L138.57,15.57 L138.73,15.58 L138.88,15.59 L139.04,15.60 L139.20,15.61 L139.36,15.62 L139.52,15.63 L139.68,15.64 L139.84,15.65 L140.00,15.66 L140.16,15.67 L140.32,15.68 L140.48,15.69 L140.64,15.70 L140.80,15.72 L140.96,15.73 L141.12,15.74 L141.28,15.75 L141.44,15.76 L141.60,15.77 L141.76,15.79 L141.92,15.80 L142.07,15.81 L142.23,15.82 L142.39,15.84 L142.55,15.85 L142.71,15.86 L142.87,15.88 L143.03,15.89 L143.19,15.90 L143.35,15.92 L143.51,15.93 L143.67,15.94 L143.83,15.96 L143.99,15.97 L144.15,15.99 L144.31,16.00 L144.47,16.01 L144.63,16.03 L144.79,16.04 L144.95,16.06 L145.11,16.07 L145.26,16.09 L145.42,16.10 L145.58,16.12 L145.74,16.14 L145.90,16.15 L146.06,16.17 L146.22,16.19 L146.38,16.20 L146.54,16.22 L146.70,16.24 L146.86,16.25 L147.02,16.27 L147.18,16.29 L147.34,16.31 L147.50,16.33 L147.66,16.34 L147.82,16.36 L147.98,16.38 L148.14,16.40 L148.30,16.42 L148.46,16.44 L148.61,16.46 L148.77,16.48 L148.93,16.50 L149.09,16.52 L149.25,16.54 L149.41,16.56 L149.57,16.58 L149.73,16.61 L149.89,16.63 L150.05,16.65 L150.21,16.67 L150.37,16.69 L150.53,16.72 L150.69,16.74 L150.85,16.76 L151.01,16.79 L151.17,16.81 L151.33,16.84 L151.49,16.86 L151.65,16.88 L151.80,16.91 L151.96,16.93 L152.12,16.96 L152.28,16.99 L152.44,17.01 L152.60,17.04 L152.76,17.07 L152.92,17.09 L153.08,17.12 L153.24,17.15 L153.40,17.17 L153.56,17.20 L153.72,17.23 L153.88,17.26 L154.04,17.29 L154.20,17.32 L154.36,17.35 L154.52,17.38 L154.68,17.41 L154.84,17.44 L154.99,17.47 L155.15,17.50 L155.31,17.53 L155.47,17.56 L155.63,17.59 L155.79,17.62 L155.95,17.66 L156.11,17.69 L156.27,17.72 L156.43,17.76 L156.59,17.79 L156.75,17.82 L156.91,17.86 L157.07,17.89 L157.23,17.93 L157.39,17.96 L157.55,18.00 L157.71,18.03 L157.87,18.07 L158.03,18.11 L158.18,18.14 L158.34,18.18 L158.50,18.22 L158.66,18.26 L158.82,18.30 L158.98,18.33 L159.14,18.37 L159.30,18.41 L159.46,18.45 L159.62,18.49 L159.78,18.53 L159.94,18.57 L160.10,18.61 L160.26,18.66 L160.42,18.70 L160.58,18.74 L160.74,18.78 L160.90,18.82 L161.06,18.87 L161.22,18.91 L161.37,18.95 L161.53,19.00 L161.69,19.04 L161.85,19.09 L162.01,19.13 L162.17,19.18 L162.33,19.23 L162.49,19.28 L162.65,19.33 L162.81,19.39 L162.97,19.44 L163.13,19.50 L163.29,19.55 L163.45,19.61 L163.61,19.67 L163.77,19.73 L163.93,19.79 L164.09,19.86 L164.25,19.92 L164.41,19.99 L164.56,20.05 L164.72,20.12 L164.88,20.19 L165.04,20.26 L165.20,20.33 L165.36,20.40 L165.52,20.47 L165.68,20.54 L165.84,20.61 L166.00,20.69 L166.16,20.76 L166.32,20.84 L166.48,20.91 L166.64,20.99 L166.80,21.06 L166.96,21.14 L167.12,21.22 L167.28,21.29 L167.44,21.37 L167.59,21.45 L167.75,21.53 L167.91,21.61 L168.07,21.69 L168.23,21.77 L168.39,21.84 L168.55,21.92 L168.71,22.00 L168.87,22.08 L169.03,22.16 L169.19,22.24 L169.35,22.32 L169.51,22.40 L169.67,22.48 L169.83,22.56 L169.99,22.64 L170.15,22.71 L170.31,22.79 L170.47,22.87 L170.63,22.95 L170.78,23.02 L170.94,23.10 L171.10,23.17 L171.26,23.25 L171.42,23.32 L171.58,23.40 L171.74,23.47 L171.90,23.54 L172.06,23.62 L172.22,23.69 L172.38,23.76 L172.54,23.83 L172.70,23.90 L172.86,23.97 L173.02,24.03 L173.18,24.10 L173.34,24.16 L173.50,24.23 L173.66,24.29 L173.82,24.35 L173.97,24.41 L174.13,24.48 L174.29,24.54 L174.45,24.60 L174.61,24.67 L174.77,24.73 L174.93,24.80 L175.09,24.87 L175.25,24.93 L175.41,25.00 L175.57,25.07 L175.73,25.14 L175.89,25.21 L176.05,25.29 L176.21,25.36 L176.37,25.43 L176.53,25.50 L176.69,25.57 L176.85,25.64 L177.01,25.72 L177.16,25.79 L177.32,25.86 L177.48,25.93 L177.64,26.00 L177.80,26.07 L177.96,26.14 L178.12,26.20 L178.28,26.27 L178.44,26.34 L178.60,26.40 L178.76,26.47 L178.92,26.53 L179.08,26.59 L179.24,26.65 L179.40,26.71 L179.56,26.77 L179.72,26.82 L179.88,26.88 L180.04,26.93 L180.20,26.98 L180.35,27.03 L180.51,27.07 L180.67,27.12 L180.83,27.16 L180.99,27.20 L181.15,27.23 L181.31,27.27 L181.47,27.30 L181.63,27.33 L181.79,27.35 L181.95,27.38 L182.11,27.40 L182.27,27.41 L182.43,27.43 L182.59,27.44 L182.75,27.45 L182.91,27.45 L183.07,27.45 L183.23,27.45 L183.39,27.44 L183.54,27.43 L183.70,27.42 L183.86,27.40 L184.02,27.38 L184.18,27.36 L184.34,27.34 L184.50,27.31 L184.66,27.28 L184.82,27.24 L184.98,27.21 L185.14,27.17 L185.30,27.13 L185.46,27.09 L185.62,27.04 L185.78,26.99 L185.94,26.94 L186.10,26.89 L186.26,26.84 L186.42,26.78 L186.58,26.73 L186.73,26.67 L186.89,26.61 L187.05,26.55 L187.21,26.48 L187.37,26.42 L187.53,26.35 L187.69,26.29 L187.85,26.22 L188.01,26.15 L188.17,26.08 L188.33,26.01 L188.49,25.94 L188.65,25.87 L188.81,25.80 L188.97,25.72 L189.13,25.65 L189.29,25.58 L189.45,25.50 L189.61,25.43 L189.77,25.36 L189.92,25.28 L190.08,25.21 L190.24,25.14 L190.40,25.06 L190.56,24.99 L190.72,24.92 L190.88,24.85 L191.04,24.78 L191.20,24.71 L191.36,24.64 L191.52,24.57 L191.68,24.50 L191.84,24.43 L192.00,24.37 L192.16,24.30 L192.32,24.24 L192.48,24.17 L192.64,24.10 L192.80,24.03 L192.96,23.95 L193.11,23.88 L193.27,23.80 L193.43,23.73 L193.59,23.65 L193.75,23.57 L193.91,23.49 L194.07,23.41 L194.23,23.33 L194.39,23.24 L194.55,23.16 L194.71,23.07 L194.87,22.99 L195.03,22.90 L195.19,22.82 L195.35,22.73 L195.51,22.64 L195.67,22.56 L195.83,22.47 L195.99,22.38 L196.15,22.30 L196.30,22.21 L196.46,22.12 L196.62,22.04 L196.78,21.95 L196.94,21.87 L197.10,21.78 L197.26,21.70 L197.42,21.61 L197.58,21.53 L197.74,21.45 L197.90,21.37 L198.06,21.29 L198.22,21.21 L198.38,21.13 L198.54,21.06 L198.70,20.98 L198.86,20.91 L199.02,20.84 L199.18,20.77 L199.34,20.70 L199.49,20.63 L199.65,20.56 L199.81,20.50 L199.97,20.44 L200.13,20.38 L200.29,20.32 L200.45,20.27 L200.61,20.21 L200.77,20.16 L200.93,20.11 L201.09,20.06 L201.25,20.01 L201.41,19.95 L201.57,19.90 L201.73,19.85 L201.89,19.80 L202.05,19.75 L202.21,19.71 L202.37,19.66 L202.53,19.61 L202.68,19.56 L202.84,19.52 L203.00,19.47 L203.16,19.42 L203.32,19.38 L203.48,19.33 L203.64,19.29 L203.80,19.25 L203.96,19.20 L204.12,19.16 L204.28,19.12 L204.44,19.08 L204.60,19.04 L204.76,19.00 L204.92,18.96 L205.08,18.92 L205.24,18.88 L205.40,18.85 L205.56,18.81 L205.72,18.77 L205.87,18.74 L206.03,18.70 L206.19,18.67 L206.35,18.64 L206.51,18.61 L206.67,18.57 L206.83,18.54 L206.99,18.51 L207.15,18.48 L207.31,18.45 L207.47,18.43 L207.63,18.40 L207.79,18.37 L207.95,18.35 L208.11,18.32 L208.27,18.30 L208.43,18.27 L208.59,18.25 L208.75,18.22 L208.91,18.20 L209.06,18.17 L209.22,18.15 L209.38,18.12 L209.54,18.10 L209.70,18.08 L209.86,18.05 L210.02,18.03 L210.18,18.01 L210.34,17.98 L210.50,17.96 L210.66,17.94 L210.82,17.92 L210.98,17.90 L211.14,17.88 L211.30,17.85 L211.46,17.83 L211.62,17.81 L211.78,17.79 L211.94,17.78 L212.10,17.76 L212.25,17.74 L212.41,17.72 L212.57,17.70 L212.73,17.68 L212.89,17.67 L213.05,17.65 L213.21,17.63 L213.37,17.62 L213.53,17.60 L213.69,17.59 L213.85,17.57 L214.01,17.56 L214.17,17.54 L214.33,17.53 L214.49,17.52 L214.65,17.51 L214.81,17.49 L214.97,17.48 L215.13,17.47 L215.29,17.46 L215.44,17.45 L215.60,17.44 L215.76,17.43 L215.92,17.42 L216.08,17.42 L216.24,17.41 L216.40,17.40 L216.56,17.39 L216.72,17.38 L216.88,17.37 L217.04,17.37 L217.20,17.36 L217.36,17.35 L217.52,17.34 L217.68,17.33 L217.84,17.33 L218.00,17.32 L218.16,17.31 L218.32,17.30 L218.48,17.30 L218.63,17.29 L218.79,17.28 L218.95,17.27 L219.11,17.27 L219.27,17.26 L219.43,17.25 L219.59,17.25 L219.75,17.24 L219.91,17.23 L220.07,17.23 L220.23,17.22 L220.39,17.22 L220.55,17.21 L220.71,17.21 L220.87,17.20 L221.03,17.20 L221.19,17.19 L221.35,17.19 L221.51,17.18 L221.67,17.18 L221.82,17.17 L221.98,17.17 L222.14,17.17 L222.30,17.16 L222.46,17.16 L222.62,17.16 L222.78,17.16 L222.94,17.15 L223.10,17.15 L223.26,17.15 L223.42,17.15 L223.58,17.15 L223.74,17.15 L223.90,17.15 L224.06,17.15 L224.22,17.15 L224.38,17.15 L224.54,17.15 L224.70,17.15 L224.86,17.15 L225.01,17.15 L225.17,17.15 L225.33,17.15 L225.49,17.16 L225.65,17.16 L225.81,17.16 L225.97,17.16 L226.13,17.17 L226.29,17.17 L226.45,17.17 L226.61,17.18 L226.77,17.18 L226.93,17.18 L227.09,17.19 L227.25,17.19 L227.41,17.20 L227.57,17.20 L227.73,17.21 L227.89,17.21 L228.05,17.22 L228.21,17.22 L228.36,17.23 L228.52,17.24 L228.68,17.24 L228.84,17.25 L229.00,17.25 L229.16,17.26 L229.32,17.27 L229.48,17.27 L229.64,17.28 L229.80,17.29 L229.96,17.29 L230.12,17.30 L230.28,17.31 L230.44,17.32 L230.60,17.32 L230.76,17.33 L230.92,17.34 L231.08,17.35 L231.24,17.35 L231.40,17.36 L231.55,17.37 L231.71,17.38 L231.87,17.38 L232.03,17.39 L232.19,17.40 L232.35,17.41 L232.51,17.42 L232.67,17.42 L232.83,17.43 L232.99,17.44 L233.15,17.45 L233.31,17.46 L233.47,17.46 L233.63,17.47 L233.79,17.48 L233.95,17.49 L234.11,17.50 L234.27,17.51 L234.43,17.52 L234.59,17.53 L234.74,17.54 L234.90,17.55 L235.06,17.56 L235.22,17.57 L235.38,17.58 L235.54,17.59 L235.70,17.60 L235.86,17.62 L236.02,17.63 L236.18,17.64 L236.34,17.65 L236.50,17.67 L236.66,17.68 L236.82,17.70 L236.98,17.71 L237.14,17.72 L237.30,17.74 L237.46,17.75 L237.62,17.77 L237.78,17.78 L237.93,17.80 L238.09,17.81 L238.25,17.83 L238.41,17.85 L238.57,17.86 L238.73,17.88 L238.89,17.89 L239.05,17.91 L239.21,17.93 L239.37,17.95 L239.53,17.96 L239.69,17.98 L239.85,18.00 L240.01,18.02 L240.17,18.03 L240.33,18.05 L240.49,18.07 L240.65,18.09 L240.81,18.11 L240.97,18.12 L241.12,18.14 L241.28,18.16 L241.44,18.18 L241.60,18.20 L241.76,18.22 L241.92,18.24 L242.08,18.26 L242.24,18.28 L242.40,18.30 L242.56,18.32 L242.72,18.33 L242.88,18.35 L243.04,18.37 L243.20,18.39 L243.36,18.41 L243.52,18.43 L243.68,18.45 L243.84,18.47 L244.00,18.49 L244.16,18.51 L244.31,18.53 L244.47,18.55 L244.63,18.57 L244.79,18.59 L244.95,18.61 L245.11,18.63 L245.27,18.65 L245.43,18.67 L245.59,18.69 L245.75,18.71 L245.91,18.73 L246.07,18.75 L246.23,18.77 L246.39,18.79 L246.55,18.81 L246.71,18.83 L246.87,18.85 L247.03,18.87 L247.19,18.90 L247.34,18.92 L247.50,18.94 L247.66,18.96 L247.82,18.98 L247.98,19.00 L248.14,19.02 L248.30,19.05 L248.46,19.07 L248.62,19.09 L248.78,19.11 L248.94,19.14 L249.10,19.16 L249.26,19.18 L249.42,19.20 L249.58,19.23 L249.74,19.25 L249.90,19.27 L250.06,19.30 L250.22,19.32 L250.38,19.34 L250.53,19.37 L250.69,19.39 L250.85,19.41 L251.01,19.44 L251.17,19.46 L251.33,19.49 L251.49,19.51 L251.65,19.54 L251.81,19.56 L251.97,19.58 L252.13,19.61 L252.29,19.63 L252.45,19.66 L252.61,19.69 L252.77,19.71 L252.93,19.74 L253.09,19.76 L253.25,19.79 L253.41,19.81 L253.57,19.84 L253.72,19.87 L253.88,19.89 L254.04,19.92 L254.20,19.94 L254.36,19.97 L254.52,20.00 L254.68,20.02 L254.84,20.05 L255.00,20.08 L255.16,20.11 L255.32,20.13 L255.48,20.16 L255.64,20.19 L255.80,20.21 L255.96,20.24 L256.12,20.27 L256.28,20.30 L256.44,20.33 L256.60,20.35 L256.76,20.38 L256.91,20.41 L257.07,20.44 L257.23,20.47 L257.39,20.50 L257.55,20.53 L257.71,20.55 L257.87,20.58 L258.03,20.61 L258.19,20.64 L258.35,20.67 L258.51,20.70 L258.67,20.73 L258.83,20.76 L258.99,20.79 L259.15,20.82 L259.31,20.85 L259.47,20.88 L259.63,20.91 L259.79,20.94 L259.95,20.97 L260.11,21.00 L260.26,21.03 L260.42,21.06 L260.58,21.09 L260.74,21.12 L260.90,21.15 L261.06,21.18 L261.22,21.22 L261.38,21.25 L261.54,21.28 L261.70,21.31" stroke="#ff0000"/></g>
<rect x="38.4" y="11.6" width="223.30" height="186.10" fill="none" stroke="#606060" stroke-width="1"/>
<rect x="216.6" y="169" width="38.7" height="22.8" rx="0.8" fill="#fff" stroke="#606060" stroke-width="1"/>
<path d="M220.6,175.8 H239" stroke="#0000ff" stroke-width="1.3"/><path d="M220.6,185 H239" stroke="#ff0000" stroke-width="1.3"/>
<g font-family="'Liberation Serif', serif" font-size="8.2" fill="#222">
<text x="242" y="178.3" font-style="italic">R<tspan font-size="6.4" dy="1.6">s</tspan></text>
<text x="242" y="187.6" font-style="italic">R<tspan font-size="6.4" dy="1.6">p</tspan></text>
</g>
<g font-family="'Liberation Serif', serif" font-size="10.3" fill="#222">
<text x="38.40" y="211.2" text-anchor="middle">450</text>
<text x="70.30" y="211.2" text-anchor="middle">500</text>
<text x="102.20" y="211.2" text-anchor="middle">550</text>
<text x="134.10" y="211.2" text-anchor="middle">600</text>
<text x="166.00" y="211.2" text-anchor="middle">650</text>
<text x="197.90" y="211.2" text-anchor="middle">700</text>
<text x="229.80" y="211.2" text-anchor="middle">750</text>
<text x="261.70" y="211.2" text-anchor="middle">800</text>
<text x="32.4" y="201.20" text-anchor="end">0</text>
<text x="32.4" y="163.98" text-anchor="end">0.2</text>
<text x="32.4" y="126.76" text-anchor="end">0.4</text>
<text x="32.4" y="89.54" text-anchor="end">0.6</text>
<text x="32.4" y="52.32" text-anchor="end">0.8</text>
<text x="32.4" y="15.10" text-anchor="end">1</text>
</g>
<g font-family="'Liberation Serif', serif" fill="#222">
<text x="150.2" y="227" font-size="12" text-anchor="middle" textLength="82.6" lengthAdjust="spacingAndGlyphs">Wavelength (nm)</text>
<text transform="translate(12.5,103.7) rotate(-90)" font-size="12" text-anchor="middle" textLength="56" lengthAdjust="spacingAndGlyphs">Reflectance</text>
<text x="154.5" y="243" font-size="10.9" font-weight="bold" text-anchor="middle">(a)</text>
</g>
<rect x="313.3" y="12.3" width="223.90" height="185.70" fill="#d9d9d9"/>
<rect x="313.3" y="12.3" width="12.10" height="185.70" fill="#b3b3b3"/>
<rect x="342.3" y="12.3" width="11.10" height="185.70" fill="#b3b3b3"/>
<rect x="368.1" y="12.3" width="10.10" height="185.70" fill="#b3b3b3"/>
<rect x="393.8" y="12.3" width="10.90" height="185.70" fill="#b3b3b3"/>
<rect x="420.2" y="12.3" width="10.60" height="185.70" fill="#b3b3b3"/>
<rect x="449.2" y="12.3" width="10.70" height="185.70" fill="#b3b3b3"/>
<rect x="477.3" y="12.3" width="9.90" height="185.70" fill="#b3b3b3"/>
<rect x="487.2" y="12.3" width="50.00" height="185.70" fill="#3ec4f0"/>
<g fill="none" stroke="#8f8f8f" stroke-width="0.4">
<path d="M313.30,198.0 v-3 M313.30,12.3 v3"/>
<path d="M341.29,198.0 v-3 M341.29,12.3 v3"/>
<path d="M369.28,198.0 v-3 M369.28,12.3 v3"/>
<path d="M397.26,198.0 v-3 M397.26,12.3 v3"/>
<path d="M425.25,198.0 v-3 M425.25,12.3 v3"/>
<path d="M453.24,198.0 v-3 M453.24,12.3 v3"/>
<path d="M481.23,198.0 v-3 M481.23,12.3 v3"/>
<path d="M509.21,198.0 v-3 M509.21,12.3 v3"/>
<path d="M537.20,198.0 v-3 M537.20,12.3 v3"/>
<path d="M313.3,198.00 h3 M537.2,198.00 h-3"/>
<path d="M313.3,151.57 h3 M537.2,151.57 h-3"/>
<path d="M313.3,105.15 h3 M537.2,105.15 h-3"/>
<path d="M313.3,58.72 h3 M537.2,58.72 h-3"/>
<path d="M313.3,12.30 h3 M537.2,12.30 h-3"/>
</g>
<clipPath id="cr"><rect x="313.3" y="12.3" width="223.90" height="185.70"/></clipPath>
<g clip-path="url(#cr)" fill="none" stroke="#ff0000" stroke-width="1.3" stroke-linejoin="round">
<path d="M313.40,196.50 L313.96,195.80 L314.52,195.11 L315.09,194.45 L315.65,193.80 L316.21,193.18 L316.77,192.59 L317.33,192.02 L317.90,191.47 L318.46,190.96 L319.02,190.48 L319.58,190.01 L320.14,189.51 L320.70,189.00 L321.27,188.50 L321.83,188.02 L322.39,187.57 L322.95,187.16 L323.51,186.81 L324.08,186.53 L324.64,186.33 L325.20,186.22 L325.76,186.21 L326.32,186.31 L326.89,186.49 L327.45,186.75 L328.01,187.07 L328.57,187.45 L329.13,187.87 L329.70,188.32 L330.26,188.79 L330.82,189.27 L331.38,189.74 L331.94,190.21 L332.50,190.64 L333.07,191.05 L333.63,191.47 L334.19,191.94 L334.75,192.45 L335.31,192.99 L335.88,193.54 L336.44,194.09 L337.00,194.64 L337.56,195.17 L338.12,195.66 L338.69,196.11 L339.25,196.51 L339.81,196.84 L340.37,197.09 L340.93,197.24 L341.50,197.30 L342.06,197.13 L342.62,196.63 L343.18,195.87 L343.74,194.90 L344.30,193.76 L344.87,192.52 L345.43,191.22 L345.99,189.91 L346.55,188.65 L347.11,187.49 L347.68,186.49 L348.24,185.66 L348.80,184.83 L349.36,183.97 L349.92,183.10 L350.49,182.22 L351.05,181.37 L351.61,180.54 L352.17,179.77 L352.73,179.06 L353.30,178.44 L353.86,177.92 L354.42,177.51 L354.98,177.23 L355.54,177.11 L356.10,177.14 L356.67,177.34 L357.23,177.67 L357.79,178.12 L358.35,178.66 L358.91,179.28 L359.48,179.95 L360.04,180.64 L360.60,181.35 L361.16,182.04 L361.72,182.70 L362.29,183.33 L362.85,184.07 L363.41,184.91 L363.97,185.82 L364.53,186.76 L365.10,187.69 L365.66,188.57 L366.22,189.37 L366.78,190.05 L367.34,190.57 L367.90,190.90 L368.47,191.00 L369.03,190.91 L369.59,190.70 L370.15,190.38 L370.71,189.95 L371.28,189.45 L371.84,188.88 L372.40,188.25 L372.96,187.58 L373.52,186.90 L374.09,186.20 L374.65,185.51 L375.21,184.83 L375.77,184.20 L376.33,183.61 L376.90,183.09 L377.46,182.61 L378.02,182.09 L378.58,181.56 L379.14,181.01 L379.70,180.44 L380.27,179.87 L380.83,179.31 L381.39,178.76 L381.95,178.22 L382.51,177.71 L383.08,177.23 L383.64,176.78 L384.20,176.39 L384.76,176.04 L385.32,175.75 L385.89,175.53 L386.45,175.38 L387.01,175.31 L387.57,175.32 L388.13,175.40 L388.70,175.55 L389.26,175.76 L389.82,176.03 L390.38,176.35 L390.94,176.71 L391.50,177.10 L392.07,177.54 L392.63,177.99 L393.19,178.47 L393.75,178.97 L394.31,179.48 L394.88,179.99 L395.44,180.50 L396.00,181.00 L396.56,181.59 L397.12,182.33 L397.69,183.19 L398.25,184.15 L398.81,185.16 L399.37,186.21 L399.93,187.26 L400.50,188.28 L401.06,189.24 L401.62,190.10 L402.18,190.84 L402.74,191.42 L403.30,191.81 L403.87,191.99 L404.43,191.95 L404.99,191.77 L405.55,191.46 L406.11,191.04 L406.68,190.54 L407.24,189.97 L407.80,189.35 L408.36,188.72 L408.92,188.08 L409.49,187.45 L410.05,186.86 L410.61,186.33 L411.17,185.86 L411.73,185.39 L412.30,184.88 L412.86,184.36 L413.42,183.82 L413.98,183.28 L414.54,182.75 L415.10,182.24 L415.67,181.76 L416.23,181.32 L416.79,180.94 L417.35,180.61 L417.91,180.36 L418.48,180.18 L419.04,180.10 L419.60,180.19 L420.16,180.58 L420.72,181.23 L421.29,182.08 L421.85,183.07 L422.41,184.13 L422.97,185.20 L423.53,186.23 L424.10,187.15 L424.66,188.16 L425.22,189.33 L425.78,190.58 L426.34,191.82 L426.90,192.97 L427.47,193.96 L428.03,194.71 L428.59,195.13 L429.15,195.19 L429.71,195.12 L430.28,194.98 L430.84,194.77 L431.40,194.51 L431.96,194.21 L432.52,193.88 L433.09,193.52 L433.65,193.13 L434.21,192.74 L434.77,192.35 L435.33,191.97 L435.90,191.60 L436.46,191.25 L437.02,190.94 L437.58,190.67 L438.14,190.45 L438.70,190.24 L439.27,190.02 L439.83,189.80 L440.39,189.58 L440.95,189.36 L441.51,189.15 L442.08,188.94 L442.64,188.74 L443.20,188.55 L443.76,188.37 L444.32,188.20 L444.89,188.05 L445.45,187.92 L446.01,187.81 L446.57,187.72 L447.13,187.65 L447.70,187.61 L448.26,187.60 L448.82,187.62 L449.38,187.65 L449.94,187.72 L450.50,187.80 L451.07,187.90 L451.63,188.02 L452.19,188.16 L452.75,188.31 L453.31,188.47 L453.88,188.77 L454.44,189.35 L455.00,190.15 L455.56,191.05 L456.12,191.99 L456.69,192.87 L457.25,193.60 L457.81,194.10 L458.37,194.36 L458.93,194.58 L459.50,194.80 L460.06,195.00 L460.62,195.20 L461.18,195.38 L461.74,195.55 L462.30,195.70 L462.87,195.85 L463.43,195.98 L463.99,196.10 L464.55,196.20 L465.11,196.29 L465.68,196.36 L466.24,196.42 L466.80,196.46 L467.36,196.49 L467.92,196.50 L468.49,196.50 L469.05,196.48 L469.61,196.45 L470.17,196.40 L470.73,196.35 L471.30,196.28 L471.86,196.20 L472.42,196.11 L472.98,196.00 L473.54,195.89 L474.10,195.76 L474.67,195.63 L475.23,195.48 L475.79,195.32 L476.35,195.15 L476.91,194.97 L477.48,194.78 L478.04,194.59 L478.60,194.22 L479.16,193.63 L479.72,192.89 L480.29,192.07 L480.85,191.26 L481.41,190.52 L481.97,189.94 L482.53,189.56 L483.10,189.24 L483.66,188.93 L484.22,188.68 L484.78,188.49 L485.34,188.40 L485.90,188.44 L486.47,188.59 L487.03,188.76 L487.59,188.88 L488.15,188.98 L488.71,189.08 L489.28,189.18 L489.84,189.28 L490.40,189.37 L490.96,189.46 L491.52,189.55 L492.09,189.63 L492.65,189.72 L493.21,189.80 L493.77,189.88 L494.33,189.96 L494.90,190.04 L495.46,190.12 L496.02,190.20 L496.58,190.28 L497.14,190.36 L497.70,190.45 L498.27,190.53 L498.83,190.62 L499.39,190.70 L499.95,190.79 L500.51,190.88 L501.08,190.98 L501.64,191.07 L502.20,191.17 L502.76,191.27 L503.32,191.36 L503.89,191.46 L504.45,191.55 L505.01,191.64 L505.57,191.73 L506.13,191.82 L506.70,191.90 L507.26,191.99 L507.82,192.07 L508.38,192.15 L508.94,192.24 L509.50,192.32 L510.07,192.40 L510.63,192.47 L511.19,192.55 L511.75,192.63 L512.31,192.71 L512.88,192.78 L513.44,192.86 L514.00,192.93 L514.56,193.00 L515.12,193.07 L515.69,193.14 L516.25,193.21 L516.81,193.28 L517.37,193.34 L517.93,193.41 L518.50,193.48 L519.06,193.54 L519.62,193.61 L520.18,193.67 L520.74,193.74 L521.30,193.80 L521.87,193.86 L522.43,193.93 L522.99,193.99 L523.55,194.05 L524.11,194.11 L524.68,194.17 L525.24,194.23 L525.80,194.29 L526.36,194.35 L526.92,194.41 L527.49,194.47 L528.05,194.53 L528.61,194.58 L529.17,194.64 L529.73,194.70 L530.30,194.75 L530.86,194.81 L531.42,194.86 L531.98,194.91 L532.54,194.96 L533.10,195.02 L533.67,195.07 L534.23,195.12 L534.79,195.17 L535.35,195.21 L535.91,195.26 L536.48,195.31 L537.04,195.35 L537.60,195.40" stroke-dasharray="3.3 3.3"/>
<path d="M313.40,196.80 L313.96,196.16 L314.52,195.53 L315.09,194.92 L315.65,194.32 L316.21,193.73 L316.77,193.17 L317.33,192.62 L317.90,192.10 L318.46,191.57 L319.02,190.99 L319.58,190.39 L320.14,189.79 L320.70,189.21 L321.27,188.66 L321.83,188.17 L322.39,187.76 L322.95,187.45 L323.51,187.26 L324.08,187.20 L324.64,187.27 L325.20,187.45 L325.76,187.72 L326.32,188.07 L326.89,188.48 L327.45,188.93 L328.01,189.42 L328.57,189.93 L329.13,190.45 L329.70,190.95 L330.26,191.43 L330.82,191.87 L331.38,192.29 L331.94,192.75 L332.50,193.27 L333.07,193.81 L333.63,194.36 L334.19,194.90 L334.75,195.43 L335.31,195.92 L335.88,196.36 L336.44,196.73 L337.00,197.03 L337.56,197.22 L338.12,197.30 L338.69,197.27 L339.25,197.17 L339.81,196.99 L340.37,196.75 L340.93,196.45 L341.50,196.09 L342.06,195.69 L342.62,195.25 L343.18,194.77 L343.74,194.26 L344.30,193.72 L344.87,193.16 L345.43,192.59 L345.99,192.01 L346.55,191.23 L347.11,190.13 L347.68,188.78 L348.24,187.31 L348.80,185.81 L349.36,184.37 L349.92,183.10 L350.49,182.10 L351.05,181.47 L351.61,181.31 L352.17,181.60 L352.73,182.22 L353.30,183.06 L353.86,184.04 L354.42,185.05 L354.98,185.97 L355.54,186.92 L356.10,188.05 L356.67,189.31 L357.23,190.63 L357.79,191.95 L358.35,193.21 L358.91,194.36 L359.48,195.33 L360.04,196.07 L360.60,196.50 L361.16,196.60 L361.72,196.56 L362.29,196.47 L362.85,196.34 L363.41,196.17 L363.97,195.97 L364.53,195.73 L365.10,195.47 L365.66,195.18 L366.22,194.86 L366.78,194.29 L367.34,193.49 L367.90,192.51 L368.47,191.42 L369.03,190.28 L369.59,189.15 L370.15,188.08 L370.71,186.98 L371.28,185.69 L371.84,184.28 L372.40,182.87 L372.96,181.55 L373.52,180.40 L374.09,179.51 L374.65,179.00 L375.21,178.95 L375.77,179.55 L376.33,180.66 L376.90,182.08 L377.46,183.61 L378.02,185.05 L378.58,186.67 L379.14,188.68 L379.70,190.86 L380.27,192.96 L380.83,194.77 L381.39,196.06 L381.95,196.60 L382.51,196.58 L383.08,196.53 L383.64,196.44 L384.20,196.33 L384.76,196.18 L385.32,196.02 L385.89,195.83 L386.45,195.63 L387.01,195.41 L387.57,195.18 L388.13,194.94 L388.70,194.64 L389.26,194.24 L389.82,193.78 L390.38,193.25 L390.94,192.67 L391.50,192.04 L392.07,191.38 L392.63,190.70 L393.19,190.00 L393.75,189.30 L394.31,188.58 L394.88,187.67 L395.44,186.61 L396.00,185.45 L396.56,184.25 L397.12,183.08 L397.69,181.98 L398.25,181.01 L398.81,180.24 L399.37,179.72 L399.93,179.50 L400.50,179.73 L401.06,180.46 L401.62,181.56 L402.18,182.87 L402.74,184.26 L403.30,185.58 L403.87,186.83 L404.43,188.36 L404.99,190.06 L405.55,191.81 L406.11,193.46 L406.68,194.87 L407.24,195.92 L407.80,196.46 L408.36,196.47 L408.92,196.33 L409.49,196.07 L410.05,195.73 L410.61,195.30 L411.17,194.82 L411.73,194.28 L412.30,193.72 L412.86,193.15 L413.42,192.57 L413.98,192.02 L414.54,191.39 L415.10,190.61 L415.67,189.71 L416.23,188.73 L416.79,187.71 L417.35,186.68 L417.91,185.68 L418.48,184.76 L419.04,183.94 L419.60,183.27 L420.16,182.79 L420.72,182.53 L421.29,182.55 L421.85,182.92 L422.41,183.57 L422.97,184.43 L423.53,185.41 L424.10,186.44 L424.66,187.44 L425.22,188.36 L425.78,189.45 L426.34,190.71 L426.90,192.06 L427.47,193.39 L428.03,194.64 L428.59,195.70 L429.15,196.50 L429.71,196.94 L430.28,196.98 L430.84,196.83 L431.40,196.56 L431.96,196.20 L432.52,195.78 L433.09,195.33 L433.65,194.89 L434.21,194.47 L434.77,194.12 L435.33,193.84 L435.90,193.58 L436.46,193.34 L437.02,193.10 L437.58,192.87 L438.14,192.65 L438.70,192.43 L439.27,192.22 L439.83,192.02 L440.39,191.82 L440.95,191.62 L441.51,191.41 L442.08,191.18 L442.64,190.95 L443.20,190.71 L443.76,190.48 L444.32,190.26 L444.89,190.07 L445.45,189.91 L446.01,189.79 L446.57,189.72 L447.13,189.70 L447.70,189.70 L448.26,189.71 L448.82,189.71 L449.38,189.72 L449.94,189.73 L450.50,189.75 L451.07,189.76 L451.63,189.78 L452.19,189.80 L452.75,189.83 L453.31,189.86 L453.88,189.89 L454.44,190.11 L455.00,190.78 L455.56,191.73 L456.12,192.75 L456.69,193.62 L457.25,194.14 L457.81,194.06 L458.37,193.21 L458.93,191.86 L459.50,190.33 L460.06,188.94 L460.62,188.01 L461.18,187.80 L461.74,187.81 L462.30,187.84 L462.87,187.88 L463.43,187.93 L463.99,187.99 L464.55,188.06 L465.11,188.15 L465.68,188.24 L466.24,188.37 L466.80,188.69 L467.36,189.20 L467.92,189.83 L468.49,190.52 L469.05,191.22 L469.61,191.87 L470.17,192.40 L470.73,192.83 L471.30,193.26 L471.86,193.71 L472.42,194.15 L472.98,194.58 L473.54,194.99 L474.10,195.38 L474.67,195.72 L475.23,196.03 L475.79,196.27 L476.35,196.46 L476.91,196.57 L477.48,196.59 L478.04,196.20 L478.60,195.29 L479.16,193.97 L479.72,192.37 L480.29,190.60 L480.85,188.78 L481.41,187.03 L481.97,185.48 L482.53,184.16 L483.10,182.71 L483.66,181.24 L484.22,180.00 L484.78,179.23 L485.34,179.11 L485.90,179.21 L486.47,179.36 L487.03,179.55 L487.59,179.73 L488.15,179.93 L488.71,180.15 L489.28,180.40 L489.84,180.67 L490.40,180.96 L490.96,181.26 L491.52,181.58 L492.09,181.91 L492.65,182.25 L493.21,182.60 L493.77,182.96 L494.33,183.32 L494.90,183.68 L495.46,184.05 L496.02,184.41 L496.58,184.77 L497.14,185.13 L497.70,185.48 L498.27,185.82 L498.83,186.15 L499.39,186.47 L499.95,186.77 L500.51,187.08 L501.08,187.38 L501.64,187.70 L502.20,188.01 L502.76,188.32 L503.32,188.62 L503.89,188.91 L504.45,189.18 L505.01,189.43 L505.57,189.65 L506.13,189.84 L506.70,190.02 L507.26,190.19 L507.82,190.35 L508.38,190.50 L508.94,190.65 L509.50,190.79 L510.07,190.93 L510.63,191.06 L511.19,191.18 L511.75,191.31 L512.31,191.42 L512.88,191.54 L513.44,191.65 L514.00,191.75 L514.56,191.86 L515.12,191.96 L515.69,192.06 L516.25,192.17 L516.81,192.27 L517.37,192.37 L517.93,192.47 L518.50,192.56 L519.06,192.66 L519.62,192.76 L520.18,192.86 L520.74,192.95 L521.30,193.05 L521.87,193.14 L522.43,193.23 L522.99,193.33 L523.55,193.42 L524.11,193.51 L524.68,193.59 L525.24,193.68 L525.80,193.77 L526.36,193.85 L526.92,193.94 L527.49,194.02 L528.05,194.10 L528.61,194.18 L529.17,194.26 L529.73,194.33 L530.30,194.41 L530.86,194.48 L531.42,194.55 L531.98,194.62 L532.54,194.69 L533.10,194.75 L533.67,194.81 L534.23,194.88 L534.79,194.93 L535.35,194.99 L535.91,195.05 L536.48,195.10 L537.04,195.15 L537.60,195.20" stroke-dasharray="1.3 2.2"/>
<path d="M313.45,195.86 L313.71,195.65 L313.96,195.43 L314.22,195.19 L314.48,194.94 L314.74,194.67 L315.00,194.39 L315.26,194.10 L315.52,193.79 L315.78,193.47 L316.04,193.14 L316.30,192.80 L316.56,192.45 L316.82,192.10 L317.08,191.73 L317.34,191.36 L317.59,190.98 L317.85,190.61 L318.11,190.23 L318.37,189.85 L318.63,189.47 L318.89,189.10 L319.15,188.73 L319.41,188.37 L319.67,188.02 L319.93,187.68 L320.19,187.36 L320.45,187.05 L320.71,186.76 L320.97,186.49 L321.23,186.24 L321.48,186.02 L321.74,185.82 L322.00,185.64 L322.26,185.50 L322.52,185.38 L322.78,185.30 L323.04,185.25 L323.30,185.23 L323.53,185.25 L323.76,185.28 L323.99,185.32 L324.22,185.38 L324.45,185.45 L324.68,185.53 L324.91,185.63 L325.14,185.73 L325.37,185.85 L325.60,185.97 L325.83,186.10 L326.06,186.25 L326.29,186.40 L326.53,186.55 L326.76,186.72 L326.99,186.89 L327.22,187.07 L327.45,187.26 L327.68,187.45 L327.91,187.65 L328.14,187.85 L328.37,188.06 L328.60,188.27 L328.83,188.48 L329.06,188.70 L329.29,188.93 L329.52,189.15 L329.75,189.38 L329.98,189.61 L330.21,189.84 L330.44,190.07 L330.67,190.31 L330.90,190.54 L331.13,190.78 L331.36,191.02 L331.59,191.25 L331.82,191.49 L332.05,191.72 L332.28,191.95 L332.52,192.18 L332.75,192.41 L332.98,192.64 L333.21,192.87 L333.44,193.09 L333.67,193.31 L333.90,193.52 L334.13,193.73 L334.36,193.94 L334.59,194.15 L334.82,194.34 L335.05,194.54 L335.28,194.73 L335.51,194.91 L335.74,195.09 L335.97,195.27 L336.20,195.44 L336.43,195.60 L336.66,195.76 L336.89,195.91 L337.12,196.05 L337.35,196.19 L337.58,196.32 L337.81,196.44 L338.04,196.56 L338.27,196.67 L338.51,196.77 L338.74,196.87 L338.97,196.95 L339.20,197.03 L339.43,197.11 L339.66,197.17 L339.89,197.23 L340.12,197.28 L340.35,197.32 L340.58,197.36 L340.81,197.39 L341.04,197.40 L341.27,197.42 L341.50,197.42 L341.50,197.42 L341.66,197.42 L341.82,197.42 L341.97,197.41 L342.13,197.40 L342.29,197.37 L342.45,197.34 L342.60,197.30 L342.76,197.25 L342.92,197.19 L343.08,197.10 L343.23,197.01 L343.39,196.90 L343.55,196.76 L343.71,196.61 L343.86,196.44 L344.02,196.25 L344.18,196.04 L344.34,195.81 L344.49,195.55 L344.65,195.27 L344.81,194.97 L344.97,194.64 L345.13,194.29 L345.28,193.92 L345.44,193.52 L345.60,193.10 L345.76,192.66 L345.91,192.20 L346.07,191.72 L346.23,191.22 L346.39,190.70 L346.54,190.17 L346.70,189.62 L346.86,189.05 L347.02,188.48 L347.17,187.90 L347.33,187.31 L347.49,186.71 L347.65,186.11 L347.81,185.52 L347.96,184.93 L348.12,184.34 L348.28,183.76 L348.44,183.20 L348.59,182.65 L348.75,182.12 L348.91,181.61 L349.07,181.13 L349.22,180.67 L349.38,180.24 L349.54,179.85 L349.70,179.50 L349.85,179.19 L350.01,178.91 L350.17,178.69 L350.33,178.51 L350.48,178.38 L350.64,178.30 L350.80,178.27 L351.01,178.29 L351.23,178.34 L351.44,178.41 L351.65,178.50 L351.86,178.61 L352.08,178.74 L352.29,178.89 L352.50,179.05 L352.71,179.23 L352.93,179.43 L353.14,179.64 L353.35,179.86 L353.56,180.10 L353.78,180.35 L353.99,180.61 L354.20,180.88 L354.42,181.16 L354.63,181.45 L354.84,181.75 L355.05,182.06 L355.27,182.38 L355.48,182.71 L355.69,183.04 L355.90,183.38 L356.12,183.72 L356.33,184.07 L356.54,184.43 L356.75,184.78 L356.97,185.15 L357.18,185.51 L357.39,185.88 L357.61,186.25 L357.82,186.62 L358.03,186.99 L358.24,187.36 L358.46,187.73 L358.67,188.10 L358.88,188.46 L359.09,188.83 L359.31,189.19 L359.52,189.55 L359.73,189.91 L359.94,190.26 L360.16,190.61 L360.37,190.96 L360.58,191.29 L360.79,191.63 L361.01,191.95 L361.22,192.27 L361.43,192.59 L361.65,192.89 L361.86,193.19 L362.07,193.48 L362.28,193.77 L362.50,194.04 L362.71,194.30 L362.92,194.56 L363.13,194.81 L363.35,195.04 L363.56,195.27 L363.77,195.48 L363.98,195.69 L364.20,195.88 L364.41,196.07 L364.62,196.24 L364.84,196.40 L365.05,196.55 L365.26,196.69 L365.47,196.82 L365.69,196.93 L365.90,197.03 L366.11,197.12 L366.32,197.20 L366.54,197.27 L366.75,197.32 L366.96,197.37 L367.17,197.40 L367.39,197.41 L367.60,197.42 L367.60,197.42 L367.75,197.42 L367.90,197.41 L368.05,197.40 L368.20,197.38 L368.35,197.35 L368.49,197.30 L368.64,197.24 L368.79,197.15 L368.94,197.05 L369.09,196.92 L369.24,196.77 L369.39,196.59 L369.54,196.38 L369.69,196.14 L369.84,195.88 L369.99,195.57 L370.14,195.24 L370.28,194.87 L370.43,194.46 L370.58,194.02 L370.73,193.54 L370.88,193.02 L371.03,192.47 L371.18,191.88 L371.33,191.25 L371.48,190.59 L371.63,189.90 L371.78,189.17 L371.93,188.40 L372.07,187.61 L372.22,186.79 L372.37,185.95 L372.52,185.08 L372.67,184.19 L372.82,183.28 L372.97,182.35 L373.12,181.42 L373.27,180.48 L373.42,179.54 L373.57,178.59 L373.72,177.66 L373.86,176.73 L374.01,175.82 L374.16,174.92 L374.31,174.06 L374.46,173.22 L374.61,172.41 L374.76,171.65 L374.91,170.92 L375.06,170.25 L375.21,169.63 L375.36,169.07 L375.51,168.58 L375.65,168.15 L375.80,167.79 L375.95,167.50 L376.10,167.30 L376.25,167.17 L376.40,167.13 L376.62,167.16 L376.83,167.23 L377.05,167.35 L377.27,167.49 L377.48,167.67 L377.70,167.87 L377.92,168.11 L378.13,168.37 L378.35,168.65 L378.56,168.96 L378.78,169.29 L379.00,169.65 L379.21,170.02 L379.43,170.41 L379.65,170.82 L379.86,171.25 L380.08,171.70 L380.30,172.16 L380.51,172.64 L380.73,173.13 L380.95,173.63 L381.16,174.15 L381.38,174.67 L381.59,175.21 L381.81,175.75 L382.03,176.31 L382.24,176.87 L382.46,177.43 L382.68,178.00 L382.89,178.58 L383.11,179.16 L383.33,179.74 L383.54,180.33 L383.76,180.91 L383.98,181.50 L384.19,182.09 L384.41,182.67 L384.63,183.25 L384.84,183.83 L385.06,184.41 L385.27,184.98 L385.49,185.54 L385.71,186.10 L385.92,186.65 L386.14,187.19 L386.36,187.73 L386.57,188.26 L386.79,188.77 L387.01,189.28 L387.22,189.78 L387.44,190.26 L387.66,190.73 L387.87,191.19 L388.09,191.64 L388.31,192.07 L388.52,192.49 L388.74,192.90 L388.95,193.28 L389.17,193.66 L389.39,194.02 L389.60,194.36 L389.82,194.68 L390.04,194.99 L390.25,195.28 L390.47,195.55 L390.69,195.81 L390.90,196.04 L391.12,196.26 L391.34,196.46 L391.55,196.64 L391.77,196.81 L391.98,196.95 L392.20,197.08 L392.42,197.18 L392.63,197.27 L392.85,197.33 L393.07,197.38 L393.28,197.41 L393.50,197.42 L393.50,197.42 L393.65,197.42 L393.81,197.41 L393.96,197.39 L394.11,197.36 L394.26,197.30 L394.42,197.23 L394.57,197.12 L394.72,196.99 L394.87,196.82 L395.03,196.61 L395.18,196.36 L395.33,196.07 L395.48,195.73 L395.64,195.34 L395.79,194.90 L395.94,194.41 L396.09,193.87 L396.25,193.26 L396.40,192.60 L396.55,191.88 L396.70,191.10 L396.86,190.26 L397.01,189.36 L397.16,188.40 L397.31,187.38 L397.47,186.30 L397.62,185.17 L397.77,183.98 L397.92,182.74 L398.08,181.45 L398.23,180.11 L398.38,178.74 L398.53,177.32 L398.69,175.87 L398.84,174.39 L398.99,172.89 L399.14,171.37 L399.30,169.84 L399.45,168.30 L399.60,166.77 L399.75,165.24 L399.91,163.73 L400.06,162.24 L400.21,160.79 L400.36,159.38 L400.52,158.01 L400.67,156.70 L400.82,155.45 L400.97,154.28 L401.13,153.18 L401.28,152.17 L401.43,151.26 L401.58,150.45 L401.74,149.75 L401.89,149.17 L402.04,148.70 L402.19,148.37 L402.35,148.16 L402.50,148.09 L402.72,148.14 L402.94,148.27 L403.16,148.45 L403.38,148.69 L403.59,148.97 L403.81,149.31 L404.03,149.69 L404.25,150.11 L404.47,150.58 L404.69,151.08 L404.91,151.62 L405.13,152.19 L405.35,152.80 L405.57,153.44 L405.78,154.11 L406.00,154.81 L406.22,155.54 L406.44,156.29 L406.66,157.07 L406.88,157.86 L407.10,158.68 L407.32,159.52 L407.54,160.38 L407.76,161.25 L407.97,162.14 L408.19,163.04 L408.41,163.95 L408.63,164.87 L408.85,165.80 L409.07,166.74 L409.29,167.69 L409.51,168.64 L409.73,169.59 L409.95,170.54 L410.16,171.50 L410.38,172.45 L410.60,173.40 L410.82,174.35 L411.04,175.29 L411.26,176.23 L411.48,177.16 L411.70,178.08 L411.92,178.98 L412.14,179.88 L412.35,180.77 L412.57,181.64 L412.79,182.50 L413.01,183.34 L413.23,184.17 L413.45,184.97 L413.67,185.76 L413.89,186.53 L414.11,187.28 L414.33,188.01 L414.54,188.71 L414.76,189.40 L414.98,190.05 L415.20,190.69 L415.42,191.30 L415.64,191.88 L415.86,192.43 L416.08,192.96 L416.30,193.46 L416.52,193.94 L416.73,194.38 L416.95,194.80 L417.17,195.18 L417.39,195.54 L417.61,195.86 L417.83,196.16 L418.05,196.42 L418.27,196.66 L418.49,196.86 L418.71,197.03 L418.92,197.17 L419.14,197.28 L419.36,197.36 L419.58,197.40 L419.80,197.42 L419.80,197.42 L419.94,197.42 L420.09,197.41 L420.23,197.38 L420.38,197.32 L420.52,197.24 L420.66,197.11 L420.81,196.95 L420.95,196.73 L421.10,196.46 L421.24,196.13 L421.38,195.74 L421.53,195.27 L421.67,194.74 L421.82,194.12 L421.96,193.42 L422.11,192.64 L422.25,191.78 L422.39,190.82 L422.54,189.77 L422.68,188.62 L422.83,187.38 L422.97,186.05 L423.11,184.62 L423.26,183.09 L423.40,181.47 L423.55,179.76 L423.69,177.96 L423.83,176.07 L423.98,174.10 L424.12,172.06 L424.27,169.93 L424.41,167.75 L424.55,165.50 L424.70,163.19 L424.84,160.84 L424.99,158.46 L425.13,156.04 L425.27,153.61 L425.42,151.17 L425.56,148.73 L425.71,146.31 L425.85,143.91 L425.99,141.55 L426.14,139.24 L426.28,137.00 L426.43,134.83 L426.57,132.74 L426.72,130.76 L426.86,128.90 L427.00,127.16 L427.15,125.56 L427.29,124.11 L427.44,122.82 L427.58,121.71 L427.72,120.78 L427.87,120.05 L428.01,119.51 L428.16,119.19 L428.30,119.08 L428.52,119.16 L428.74,119.35 L428.95,119.64 L429.17,120.02 L429.39,120.47 L429.61,121.01 L429.82,121.61 L430.04,122.28 L430.26,123.02 L430.48,123.82 L430.69,124.68 L430.91,125.59 L431.13,126.56 L431.35,127.57 L431.57,128.64 L431.78,129.75 L432.00,130.90 L432.22,132.10 L432.44,133.33 L432.65,134.60 L432.87,135.90 L433.09,137.23 L433.31,138.59 L433.53,139.98 L433.74,141.38 L433.96,142.81 L434.18,144.26 L434.40,145.73 L434.61,147.21 L434.83,148.70 L435.05,150.20 L435.27,151.71 L435.48,153.22 L435.70,154.73 L435.92,156.25 L436.14,157.76 L436.36,159.27 L436.57,160.78 L436.79,162.28 L437.01,163.76 L437.23,165.24 L437.44,166.70 L437.66,168.14 L437.88,169.57 L438.10,170.97 L438.32,172.36 L438.53,173.72 L438.75,175.06 L438.97,176.37 L439.19,177.65 L439.40,178.91 L439.62,180.13 L439.84,181.32 L440.06,182.47 L440.27,183.59 L440.49,184.67 L440.71,185.72 L440.93,186.73 L441.15,187.69 L441.36,188.62 L441.58,189.50 L441.80,190.34 L442.02,191.14 L442.23,191.89 L442.45,192.59 L442.67,193.25 L442.89,193.86 L443.11,194.43 L443.32,194.95 L443.54,195.42 L443.76,195.84 L443.98,196.21 L444.19,196.53 L444.41,196.80 L444.63,197.02 L444.85,197.20 L445.06,197.32 L445.28,197.40 L445.50,197.42 L445.50,197.42 L445.69,197.42 L445.88,197.40 L446.07,197.35 L446.26,197.27 L446.45,197.14 L446.64,196.96 L446.83,196.71 L447.02,196.38 L447.21,195.98 L447.40,195.48 L447.59,194.89 L447.78,194.19 L447.97,193.38 L448.16,192.46 L448.35,191.41 L448.54,190.24 L448.73,188.93 L448.92,187.49 L449.11,185.91 L449.30,184.19 L449.49,182.33 L449.68,180.32 L449.87,178.17 L450.06,175.88 L450.25,173.44 L450.44,170.87 L450.63,168.16 L450.82,165.32 L451.01,162.36 L451.19,159.28 L451.38,156.09 L451.57,152.80 L451.76,149.42 L451.95,145.95 L452.14,142.42 L452.33,138.83 L452.52,135.20 L452.71,131.55 L452.90,127.88 L453.09,124.21 L453.28,120.57 L453.47,116.96 L453.66,113.41 L453.85,109.94 L454.04,106.56 L454.23,103.30 L454.42,100.17 L454.61,97.19 L454.80,94.38 L454.99,91.77 L455.18,89.36 L455.37,87.18 L455.56,85.25 L455.75,83.58 L455.94,82.18 L456.13,81.07 L456.32,80.27 L456.51,79.78 L456.70,79.62 L456.91,79.74 L457.11,80.03 L457.32,80.46 L457.53,81.03 L457.73,81.72 L457.94,82.52 L458.14,83.43 L458.35,84.44 L458.56,85.55 L458.76,86.75 L458.97,88.04 L459.18,89.41 L459.38,90.86 L459.59,92.39 L459.79,93.99 L460.00,95.66 L460.21,97.40 L460.41,99.19 L460.62,101.05 L460.83,102.95 L461.03,104.91 L461.24,106.91 L461.45,108.96 L461.65,111.04 L461.86,113.16 L462.06,115.31 L462.27,117.49 L462.48,119.69 L462.68,121.92 L462.89,124.16 L463.10,126.41 L463.30,128.68 L463.51,130.96 L463.72,133.23 L463.92,135.51 L464.13,137.79 L464.33,140.06 L464.54,142.32 L464.75,144.57 L464.95,146.81 L465.16,149.02 L465.37,151.22 L465.57,153.39 L465.78,155.54 L465.98,157.65 L466.19,159.74 L466.40,161.78 L466.60,163.80 L466.81,165.77 L467.02,167.70 L467.22,169.58 L467.43,171.42 L467.64,173.21 L467.84,174.94 L468.05,176.63 L468.25,178.26 L468.46,179.83 L468.67,181.34 L468.87,182.79 L469.08,184.18 L469.29,185.51 L469.49,186.77 L469.70,187.97 L469.91,189.10 L470.11,190.16 L470.32,191.15 L470.52,192.07 L470.73,192.92 L470.94,193.70 L471.14,194.41 L471.35,195.04 L471.56,195.60 L471.76,196.08 L471.97,196.49 L472.17,196.82 L472.38,197.09 L472.59,197.27 L472.79,197.38 L473.00,197.42 L473.00,197.42 L473.20,197.42 L473.39,197.39 L473.59,197.33 L473.79,197.21 L473.98,197.03 L474.18,196.77 L474.38,196.41 L474.57,195.95 L474.77,195.38 L474.97,194.67 L475.16,193.83 L475.36,192.84 L475.56,191.70 L475.75,190.39 L475.95,188.90 L476.15,187.24 L476.34,185.39 L476.54,183.34 L476.74,181.10 L476.93,178.66 L477.13,176.02 L477.33,173.18 L477.52,170.13 L477.72,166.88 L477.92,163.42 L478.11,159.78 L478.31,155.94 L478.51,151.91 L478.70,147.71 L478.90,143.35 L479.09,138.83 L479.29,134.16 L479.49,129.36 L479.68,124.45 L479.88,119.45 L480.08,114.36 L480.27,109.21 L480.47,104.03 L480.67,98.83 L480.86,93.63 L481.06,88.46 L481.26,83.35 L481.45,78.32 L481.65,73.40 L481.85,68.61 L482.04,63.98 L482.24,59.54 L482.44,55.32 L482.63,51.34 L482.83,47.63 L483.03,44.22 L483.22,41.13 L483.42,38.39 L483.62,36.02 L483.81,34.04 L484.01,32.47 L484.21,31.33 L484.40,30.64 L484.60,30.41 L484.74,30.57 L484.87,30.89 L485.01,31.34 L485.15,31.88 L485.28,32.52 L485.42,33.23 L485.56,34.02 L485.69,34.88 L485.83,35.81 L485.97,36.81 L486.11,37.86 L486.24,38.97 L486.38,40.14 L486.52,41.37 L486.65,42.65 L486.79,43.98 L486.93,45.37 L487.06,46.80 L487.20,48.28 L487.71,50.37 L488.21,52.43 L488.72,54.45 L489.22,56.46 L489.73,58.43 L490.23,60.38 L490.74,62.29 L491.24,64.19 L491.75,66.05 L492.25,67.89 L492.76,69.71 L493.26,71.49 L493.77,73.26 L494.27,75.00 L494.78,76.71 L495.28,78.40 L495.79,80.07 L496.29,81.72 L496.80,83.34 L497.30,84.93 L497.81,86.51 L498.31,88.07 L498.82,89.60 L499.32,91.11 L499.83,92.60 L500.33,94.07 L500.84,95.52 L501.34,96.95 L501.85,98.36 L502.35,99.75 L502.86,101.12 L503.36,102.47 L503.87,103.80 L504.37,105.11 L504.88,106.41 L505.38,107.68 L505.89,108.94 L506.39,110.18 L506.90,111.41 L507.40,112.62 L507.91,113.81 L508.41,114.98 L508.92,116.14 L509.42,117.28 L509.93,118.40 L510.43,119.51 L510.94,120.61 L511.44,121.69 L511.95,122.75 L512.45,123.80 L512.96,124.84 L513.46,125.86 L513.97,126.86 L514.47,127.85 L514.98,128.83 L515.48,129.80 L515.99,130.75 L516.49,131.68 L517.00,132.61 L517.50,133.52 L518.01,134.42 L518.51,135.31 L519.02,136.18 L519.52,137.04 L520.03,137.89 L520.53,138.73 L521.04,139.56 L521.54,140.37 L522.05,141.17 L522.55,141.97 L523.06,142.75 L523.56,143.52 L524.07,144.28 L524.57,145.03 L525.08,145.77 L525.58,146.49 L526.09,147.21 L526.59,147.92 L527.10,148.62 L527.60,149.31 L528.11,149.99 L528.61,150.66 L529.12,151.32 L529.62,151.97 L530.13,152.61 L530.63,153.24 L531.14,153.86 L531.64,154.48 L532.15,155.09 L532.65,155.69 L533.16,156.28 L533.66,156.86 L534.17,157.43 L534.67,158.00 L535.18,158.55 L535.68,159.10 L536.19,159.65 L536.69,160.18 L537.20,160.71"/>
</g>
<rect x="313.3" y="12.3" width="223.90" height="185.70" fill="none" stroke="#484848" stroke-width="0.9"/>
<rect x="319.4" y="17.4" width="88.7" height="36.9" fill="#fff" stroke="#444" stroke-width="0.7"/>
<g stroke="#ff0000" stroke-width="1.3" fill="none">
<path d="M323.5,25.7 H341.2" stroke-dasharray="3.3 3.3"/>
<path d="M323.5,36.2 H341.2"/>
<path d="M323.5,46.7 H341.2" stroke-dasharray="1.3 2.2"/>
</g>
<g font-family="'Liberation Serif', serif" font-size="8.2" fill="#222">
<text x="344.8" y="28.4" font-style="italic" font-size="8.8">λ</text><text x="349.6" y="24.4" font-style="italic" font-size="5.8">p</text><text x="349.2" y="30.9" font-style="italic" font-size="6.3" textLength="13.2" lengthAdjust="spacingAndGlyphs">GW1</text><text x="365.4" y="28.4">=</text><text x="372.8" y="28.4" textLength="30.3" lengthAdjust="spacingAndGlyphs">483.7 nm</text>
<text x="344.8" y="38.8" font-style="italic" font-size="8.8">λ</text><text x="349.2" y="40.4" font-style="italic" font-size="6.3" textLength="12.6" lengthAdjust="spacingAndGlyphs">BSW</text><text x="365.4" y="38.8">=</text><text x="372.8" y="38.8" textLength="30.3" lengthAdjust="spacingAndGlyphs">550.7 nm</text>
<text x="344.8" y="49.4" font-style="italic" font-size="8.8">λ</text><text x="349.6" y="45.4" font-style="italic" font-size="5.8">p</text><text x="349.2" y="51.9" font-style="italic" font-size="6.3" textLength="13.2" lengthAdjust="spacingAndGlyphs">GW2</text><text x="365.4" y="49.4">=</text><text x="372.8" y="49.4" textLength="30.3" lengthAdjust="spacingAndGlyphs">677.9 nm</text>
</g>
<g font-family="'Liberation Serif', serif" font-size="10.3" fill="#222">
<text x="313.30" y="211.5" text-anchor="middle">0</text>
<text x="341.29" y="211.5" text-anchor="middle">0.2</text>
<text x="369.28" y="211.5" text-anchor="middle">0.4</text>
<text x="397.26" y="211.5" text-anchor="middle">0.6</text>
<text x="425.25" y="211.5" text-anchor="middle">0.8</text>
<text x="453.24" y="211.5" text-anchor="middle">1</text>
<text x="481.23" y="211.5" text-anchor="middle">1.2</text>
<text x="509.21" y="211.5" text-anchor="middle">1.4</text>
<text x="537.20" y="211.5" text-anchor="middle">1.6</text>
<text x="307.3" y="201.50" text-anchor="end">0</text>
<text x="307.3" y="155.07" text-anchor="end">20</text>
<text x="307.3" y="108.65" text-anchor="end">40</text>
<text x="307.3" y="62.22" text-anchor="end">60</text>
<text x="307.3" y="15.80" text-anchor="end">80</text>
</g>
<g font-family="'Liberation Serif', serif" fill="#222">
<text x="304.4" y="227" font-size="12" textLength="240.8" lengthAdjust="spacingAndGlyphs">Distance from the substrate/1DPhC interface (<tspan font-style="italic">μ</tspan>m)</text>
<text transform="translate(287.1,105.2) rotate(-90)" font-size="12" text-anchor="middle" textLength="160.2" lengthAdjust="spacingAndGlyphs">Normalized optical field intensity</text>
<text x="413.6" y="243.1" font-size="10.9" font-weight="bold" text-anchor="middle">(b)</text>
</g>
</svg>
</body></html>
